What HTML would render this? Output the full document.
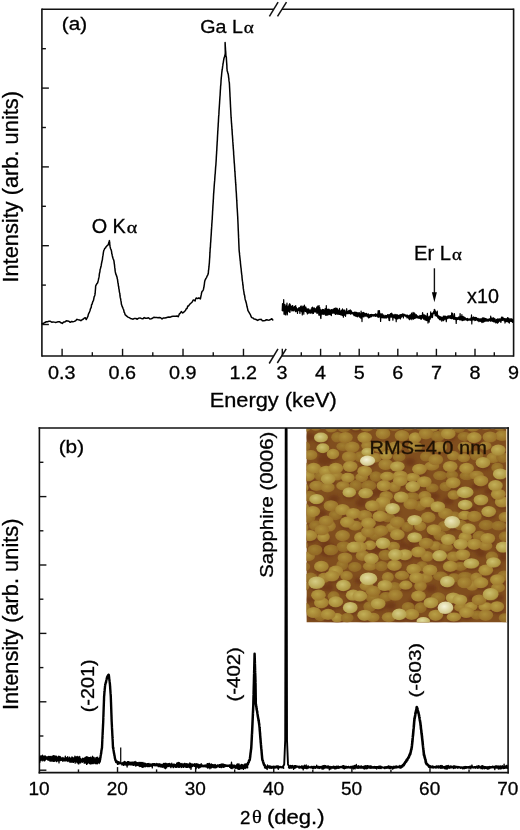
<!DOCTYPE html><html><head><meta charset="utf-8"><style>html,body{margin:0;padding:0;background:#fff;}svg{display:block}</style></head><body>
<svg width="520" height="830" viewBox="0 0 520 830" font-family='"Liberation Sans", Arial, Helvetica, sans-serif'>
<rect width="520" height="830" fill="#fff"/>
<defs>
<clipPath id="afmclip"><rect x="306.4" y="428.5" width="200.8" height="194.0"/></clipPath>
<filter id="afmblur" x="-5%" y="-5%" width="110%" height="110%"><feGaussianBlur stdDeviation="0.75"/></filter>
<filter id="shblur" x="-20%" y="-20%" width="140%" height="140%"><feGaussianBlur stdDeviation="1.8"/></filter>
<radialGradient id="g0" cx="0.42" cy="0.4" r="0.64"><stop offset="0" stop-color="rgb(160, 126, 48)"/><stop offset="0.85" stop-color="rgb(146, 104, 38)"/><stop offset="1" stop-color="rgb(146, 104, 38)" stop-opacity="0.5"/></radialGradient>
<radialGradient id="g1" cx="0.42" cy="0.4" r="0.64"><stop offset="0" stop-color="rgb(172, 142, 58)"/><stop offset="0.85" stop-color="rgb(154, 114, 42)"/><stop offset="1" stop-color="rgb(154, 114, 42)" stop-opacity="0.5"/></radialGradient>
<radialGradient id="g2" cx="0.42" cy="0.4" r="0.64"><stop offset="0" stop-color="rgb(184, 160, 70)"/><stop offset="0.85" stop-color="rgb(162, 126, 48)"/><stop offset="1" stop-color="rgb(162, 126, 48)" stop-opacity="0.5"/></radialGradient>
<radialGradient id="g3" cx="0.42" cy="0.4" r="0.64"><stop offset="0" stop-color="rgb(194, 176, 88)"/><stop offset="0.85" stop-color="rgb(168, 138, 56)"/><stop offset="1" stop-color="rgb(168, 138, 56)" stop-opacity="0.5"/></radialGradient>
<radialGradient id="g4" cx="0.42" cy="0.4" r="0.64"><stop offset="0" stop-color="rgb(204, 192, 110)"/><stop offset="0.85" stop-color="rgb(174, 150, 64)"/><stop offset="1" stop-color="rgb(174, 150, 64)" stop-opacity="0.5"/></radialGradient>
<radialGradient id="g5" cx="0.42" cy="0.4" r="0.64"><stop offset="0" stop-color="rgb(214, 206, 134)"/><stop offset="0.85" stop-color="rgb(182, 162, 78)"/><stop offset="1" stop-color="rgb(182, 162, 78)" stop-opacity="0.5"/></radialGradient>
<radialGradient id="g6" cx="0.42" cy="0.4" r="0.64"><stop offset="0" stop-color="rgb(226, 220, 160)"/><stop offset="0.85" stop-color="rgb(192, 176, 96)"/><stop offset="1" stop-color="rgb(192, 176, 96)" stop-opacity="0.5"/></radialGradient>
<radialGradient id="g7" cx="0.42" cy="0.4" r="0.64"><stop offset="0" stop-color="rgb(236, 232, 188)"/><stop offset="0.85" stop-color="rgb(200, 188, 116)"/><stop offset="1" stop-color="rgb(200, 188, 116)" stop-opacity="0.5"/></radialGradient>
<radialGradient id="g8" cx="0.42" cy="0.4" r="0.64"><stop offset="0" stop-color="rgb(246, 244, 218)"/><stop offset="0.85" stop-color="rgb(210, 200, 138)"/><stop offset="1" stop-color="rgb(210, 200, 138)" stop-opacity="0.5"/></radialGradient>
</defs>
<g clip-path="url(#afmclip)"><rect x="306.4" y="428.5" width="200.8" height="194.0" fill="rgb(128,78,30)"/>
<g filter="url(#shblur)" opacity="0.75">
<ellipse cx="310.0" cy="437.0" rx="5.5" ry="4.0" fill="rgb(108,52,20)"/>
<ellipse cx="325.0" cy="460.0" rx="7.7" ry="5.6" fill="rgb(108,52,20)"/>
<ellipse cx="334.0" cy="499.0" rx="5.5" ry="4.0" fill="rgb(108,52,20)"/>
<ellipse cx="321.4" cy="513.5" rx="5.5" ry="4.0" fill="rgb(108,52,20)"/>
<ellipse cx="309.0" cy="490.0" rx="4.4" ry="3.2" fill="rgb(108,52,20)"/>
<ellipse cx="360.8" cy="503.0" rx="5.5" ry="4.0" fill="rgb(108,52,20)"/>
<ellipse cx="376.2" cy="492.4" rx="5.5" ry="4.0" fill="rgb(108,52,20)"/>
<ellipse cx="434.0" cy="496.2" rx="5.5" ry="4.0" fill="rgb(108,52,20)"/>
<ellipse cx="448.3" cy="501.0" rx="5.5" ry="4.0" fill="rgb(108,52,20)"/>
<ellipse cx="476.2" cy="486.6" rx="4.4" ry="3.2" fill="rgb(108,52,20)"/>
<ellipse cx="488.7" cy="491.4" rx="4.4" ry="3.2" fill="rgb(108,52,20)"/>
<ellipse cx="472.4" cy="509.7" rx="4.4" ry="3.2" fill="rgb(108,52,20)"/>
<ellipse cx="328.0" cy="550.0" rx="9.9" ry="7.2" fill="rgb(108,52,20)"/>
<ellipse cx="376.2" cy="550.0" rx="5.5" ry="4.0" fill="rgb(108,52,20)"/>
<ellipse cx="403.2" cy="545.2" rx="4.4" ry="3.2" fill="rgb(108,52,20)"/>
<ellipse cx="432.0" cy="537.5" rx="4.4" ry="3.2" fill="rgb(108,52,20)"/>
<ellipse cx="410.8" cy="547.2" rx="4.4" ry="3.2" fill="rgb(108,52,20)"/>
<ellipse cx="481.0" cy="553.0" rx="5.5" ry="4.0" fill="rgb(108,52,20)"/>
<ellipse cx="503.2" cy="557.7" rx="4.4" ry="3.2" fill="rgb(108,52,20)"/>
<ellipse cx="328.2" cy="587.5" rx="5.5" ry="4.0" fill="rgb(108,52,20)"/>
<ellipse cx="331.0" cy="608.6" rx="4.4" ry="3.2" fill="rgb(108,52,20)"/>
<ellipse cx="309.0" cy="600.0" rx="3.3" ry="2.4" fill="rgb(108,52,20)"/>
<ellipse cx="390.7" cy="605.7" rx="5.5" ry="4.0" fill="rgb(108,52,20)"/>
<ellipse cx="359.0" cy="580.7" rx="4.4" ry="3.2" fill="rgb(108,52,20)"/>
<ellipse cx="431.0" cy="588.4" rx="5.5" ry="4.0" fill="rgb(108,52,20)"/>
<ellipse cx="412.8" cy="602.8" rx="4.4" ry="3.2" fill="rgb(108,52,20)"/>
<ellipse cx="472.4" cy="598.0" rx="4.4" ry="3.2" fill="rgb(108,52,20)"/>
<ellipse cx="499.3" cy="598.0" rx="4.4" ry="3.2" fill="rgb(108,52,20)"/>
<ellipse cx="457.0" cy="610.5" rx="3.3" ry="2.4" fill="rgb(108,52,20)"/>
<ellipse cx="410.0" cy="462.0" rx="5.5" ry="4.0" fill="rgb(108,52,20)"/>
<ellipse cx="356.4" cy="428.1" rx="6.1" ry="4.0" fill="rgb(105,50,20)"/>
<ellipse cx="433.7" cy="429.5" rx="5.7" ry="4.1" fill="rgb(105,50,20)"/>
<ellipse cx="415.4" cy="440.8" rx="6.2" ry="4.1" fill="rgb(105,50,20)"/>
<ellipse cx="386.7" cy="458.1" rx="6.1" ry="4.0" fill="rgb(105,50,20)"/>
<ellipse cx="308.4" cy="479.1" rx="6.8" ry="3.9" fill="rgb(105,50,20)"/>
<ellipse cx="348.2" cy="480.6" rx="6.5" ry="3.8" fill="rgb(105,50,20)"/>
<ellipse cx="387.6" cy="479.0" rx="7.0" ry="3.5" fill="rgb(105,50,20)"/>
<ellipse cx="413.1" cy="479.9" rx="6.8" ry="3.4" fill="rgb(105,50,20)"/>
<ellipse cx="302.5" cy="490.7" rx="6.2" ry="3.8" fill="rgb(105,50,20)"/>
<ellipse cx="302.3" cy="510.8" rx="6.9" ry="4.0" fill="rgb(105,50,20)"/>
<ellipse cx="465.1" cy="518.0" rx="6.3" ry="3.6" fill="rgb(105,50,20)"/>
<ellipse cx="323.8" cy="539.9" rx="6.0" ry="4.0" fill="rgb(105,50,20)"/>
<ellipse cx="360.6" cy="540.5" rx="5.9" ry="4.1" fill="rgb(105,50,20)"/>
<ellipse cx="465.5" cy="540.0" rx="6.4" ry="3.8" fill="rgb(105,50,20)"/>
<ellipse cx="370.3" cy="548.0" rx="5.8" ry="3.6" fill="rgb(105,50,20)"/>
<ellipse cx="406.1" cy="587.7" rx="6.3" ry="3.4" fill="rgb(105,50,20)"/>
<ellipse cx="471.5" cy="609.2" rx="6.0" ry="3.5" fill="rgb(105,50,20)"/>
<ellipse cx="485.9" cy="609.2" rx="6.8" ry="3.4" fill="rgb(105,50,20)"/>
<ellipse cx="497.4" cy="609.7" rx="6.7" ry="4.1" fill="rgb(105,50,20)"/>
<ellipse cx="337.5" cy="620.5" rx="5.7" ry="3.6" fill="rgb(105,50,20)"/>
<ellipse cx="454.2" cy="619.6" rx="6.9" ry="3.4" fill="rgb(105,50,20)"/>
<ellipse cx="333.3" cy="456.9" rx="6.0" ry="3.9" fill="rgb(105,50,20)"/>
<ellipse cx="314.0" cy="471.5" rx="7.0" ry="4.2" fill="rgb(105,50,20)"/>
<ellipse cx="326.5" cy="474.4" rx="7.0" ry="4.2" fill="rgb(105,50,20)"/>
<ellipse cx="336.1" cy="471.5" rx="7.0" ry="4.2" fill="rgb(105,50,20)"/>
<ellipse cx="350.6" cy="469.6" rx="7.0" ry="4.2" fill="rgb(105,50,20)"/>
<ellipse cx="365.0" cy="440.7" rx="7.0" ry="4.2" fill="rgb(105,50,20)"/>
<ellipse cx="365.0" cy="474.4" rx="7.0" ry="4.2" fill="rgb(105,50,20)"/>
<ellipse cx="400.6" cy="479.1" rx="7.0" ry="4.2" fill="rgb(105,50,20)"/>
<ellipse cx="419.8" cy="472.4" rx="7.0" ry="4.2" fill="rgb(105,50,20)"/>
<ellipse cx="450.6" cy="469.6" rx="7.0" ry="4.2" fill="rgb(105,50,20)"/>
<ellipse cx="448.6" cy="436.9" rx="7.0" ry="4.2" fill="rgb(105,50,20)"/>
<ellipse cx="474.6" cy="440.7" rx="7.0" ry="4.2" fill="rgb(105,50,20)"/>
<ellipse cx="466.9" cy="471.5" rx="7.0" ry="4.2" fill="rgb(105,50,20)"/>
<ellipse cx="342.9" cy="512.8" rx="7.0" ry="4.2" fill="rgb(105,50,20)"/>
<ellipse cx="313.1" cy="514.7" rx="7.0" ry="4.2" fill="rgb(105,50,20)"/>
<ellipse cx="353.5" cy="516.6" rx="7.0" ry="4.2" fill="rgb(105,50,20)"/>
<ellipse cx="347.7" cy="525.3" rx="7.0" ry="4.2" fill="rgb(105,50,20)"/>
<ellipse cx="383.3" cy="505.1" rx="7.0" ry="4.2" fill="rgb(105,50,20)"/>
<ellipse cx="372.7" cy="508.9" rx="7.0" ry="4.2" fill="rgb(105,50,20)"/>
<ellipse cx="380.3" cy="519.5" rx="7.0" ry="4.2" fill="rgb(105,50,20)"/>
<ellipse cx="384.3" cy="488.8" rx="7.0" ry="4.2" fill="rgb(105,50,20)"/>
<ellipse cx="400.6" cy="483.9" rx="7.0" ry="4.2" fill="rgb(105,50,20)"/>
<ellipse cx="368.8" cy="526.3" rx="7.0" ry="4.2" fill="rgb(105,50,20)"/>
<ellipse cx="427.5" cy="505.1" rx="7.0" ry="4.2" fill="rgb(105,50,20)"/>
<ellipse cx="424.6" cy="484.9" rx="7.0" ry="4.2" fill="rgb(105,50,20)"/>
<ellipse cx="453.5" cy="485.9" rx="7.0" ry="4.2" fill="rgb(105,50,20)"/>
<ellipse cx="502.5" cy="505.1" rx="7.0" ry="4.2" fill="rgb(105,50,20)"/>
<ellipse cx="498.6" cy="497.4" rx="7.0" ry="4.2" fill="rgb(105,50,20)"/>
<ellipse cx="481.3" cy="483.9" rx="7.0" ry="4.2" fill="rgb(105,50,20)"/>
<ellipse cx="321.7" cy="569.5" rx="7.0" ry="4.2" fill="rgb(105,50,20)"/>
<ellipse cx="336.1" cy="574.3" rx="7.0" ry="4.2" fill="rgb(105,50,20)"/>
<ellipse cx="310.2" cy="538.7" rx="7.0" ry="4.2" fill="rgb(105,50,20)"/>
<ellipse cx="360.2" cy="550.3" rx="7.0" ry="4.2" fill="rgb(105,50,20)"/>
<ellipse cx="397.7" cy="537.8" rx="7.0" ry="4.2" fill="rgb(105,50,20)"/>
<ellipse cx="394.8" cy="568.5" rx="7.0" ry="4.2" fill="rgb(105,50,20)"/>
<ellipse cx="434.3" cy="532.9" rx="7.0" ry="4.2" fill="rgb(105,50,20)"/>
<ellipse cx="418.8" cy="555.1" rx="7.0" ry="4.2" fill="rgb(105,50,20)"/>
<ellipse cx="414.0" cy="572.4" rx="7.0" ry="4.2" fill="rgb(105,50,20)"/>
<ellipse cx="430.3" cy="573.3" rx="7.0" ry="4.2" fill="rgb(105,50,20)"/>
<ellipse cx="450.6" cy="569.5" rx="7.0" ry="4.2" fill="rgb(105,50,20)"/>
<ellipse cx="474.6" cy="547.4" rx="7.0" ry="4.2" fill="rgb(105,50,20)"/>
<ellipse cx="488.1" cy="541.6" rx="7.0" ry="4.2" fill="rgb(105,50,20)"/>
<ellipse cx="463.1" cy="557.9" rx="7.0" ry="4.2" fill="rgb(105,50,20)"/>
<ellipse cx="486.1" cy="573.3" rx="7.0" ry="4.2" fill="rgb(105,50,20)"/>
<ellipse cx="321.7" cy="605.9" rx="7.0" ry="4.2" fill="rgb(105,50,20)"/>
<ellipse cx="314.0" cy="615.6" rx="7.0" ry="4.2" fill="rgb(105,50,20)"/>
<ellipse cx="328.5" cy="617.5" rx="7.0" ry="4.2" fill="rgb(105,50,20)"/>
<ellipse cx="318.8" cy="598.3" rx="7.0" ry="4.2" fill="rgb(105,50,20)"/>
<ellipse cx="332.3" cy="579.1" rx="7.0" ry="4.2" fill="rgb(105,50,20)"/>
<ellipse cx="418.8" cy="599.2" rx="7.0" ry="4.2" fill="rgb(105,50,20)"/>
<ellipse cx="416.9" cy="580.9" rx="7.0" ry="4.2" fill="rgb(105,50,20)"/>
<ellipse cx="436.1" cy="618.4" rx="7.0" ry="4.2" fill="rgb(105,50,20)"/>
<ellipse cx="412.1" cy="617.5" rx="7.0" ry="4.2" fill="rgb(105,50,20)"/>
<ellipse cx="481.3" cy="585.8" rx="7.0" ry="4.2" fill="rgb(105,50,20)"/>
<ellipse cx="466.9" cy="615.6" rx="7.0" ry="4.2" fill="rgb(105,50,20)"/>
<ellipse cx="497.7" cy="582.9" rx="7.0" ry="4.2" fill="rgb(105,50,20)"/>
<ellipse cx="397.7" cy="469.4" rx="7.0" ry="3.9" fill="rgb(105,50,20)"/>
<ellipse cx="498.6" cy="453.2" rx="7.0" ry="4.2" fill="rgb(105,50,20)"/>
<ellipse cx="483.3" cy="465.7" rx="7.0" ry="4.2" fill="rgb(105,50,20)"/>
<ellipse cx="328.5" cy="482.1" rx="7.0" ry="4.2" fill="rgb(105,50,20)"/>
<ellipse cx="366.0" cy="496.2" rx="7.0" ry="3.9" fill="rgb(105,50,20)"/>
<ellipse cx="401.5" cy="500.3" rx="7.0" ry="4.2" fill="rgb(105,50,20)"/>
<ellipse cx="438.1" cy="509.9" rx="7.0" ry="4.2" fill="rgb(105,50,20)"/>
<ellipse cx="413.1" cy="489.7" rx="7.0" ry="4.2" fill="rgb(105,50,20)"/>
<ellipse cx="495.8" cy="488.8" rx="7.0" ry="4.2" fill="rgb(105,50,20)"/>
<ellipse cx="481.3" cy="503.1" rx="7.0" ry="4.2" fill="rgb(105,50,20)"/>
<ellipse cx="489.0" cy="514.7" rx="7.0" ry="4.2" fill="rgb(105,50,20)"/>
<ellipse cx="354.4" cy="550.3" rx="7.0" ry="4.2" fill="rgb(105,50,20)"/>
<ellipse cx="371.7" cy="561.8" rx="7.0" ry="4.2" fill="rgb(105,50,20)"/>
<ellipse cx="405.3" cy="557.9" rx="7.0" ry="4.2" fill="rgb(105,50,20)"/>
<ellipse cx="448.6" cy="542.6" rx="7.0" ry="4.2" fill="rgb(105,50,20)"/>
<ellipse cx="468.8" cy="532.0" rx="7.0" ry="4.2" fill="rgb(105,50,20)"/>
<ellipse cx="461.1" cy="547.4" rx="7.0" ry="4.2" fill="rgb(105,50,20)"/>
<ellipse cx="336.1" cy="605.0" rx="7.0" ry="4.2" fill="rgb(105,50,20)"/>
<ellipse cx="353.5" cy="598.3" rx="7.0" ry="4.2" fill="rgb(105,50,20)"/>
<ellipse cx="385.2" cy="588.6" rx="7.0" ry="4.2" fill="rgb(105,50,20)"/>
<ellipse cx="378.5" cy="606.9" rx="7.0" ry="4.2" fill="rgb(105,50,20)"/>
<ellipse cx="360.2" cy="599.2" rx="7.0" ry="4.2" fill="rgb(105,50,20)"/>
<ellipse cx="365.0" cy="618.4" rx="7.0" ry="4.2" fill="rgb(105,50,20)"/>
<ellipse cx="431.3" cy="605.9" rx="7.0" ry="4.2" fill="rgb(105,50,20)"/>
<ellipse cx="453.5" cy="601.1" rx="7.0" ry="4.2" fill="rgb(105,50,20)"/>
<ellipse cx="460.2" cy="603.1" rx="7.0" ry="4.2" fill="rgb(105,50,20)"/>
<ellipse cx="323.2" cy="451.0" rx="6.2" ry="3.8" fill="rgb(105,50,20)"/>
<ellipse cx="367.9" cy="454.3" rx="6.0" ry="3.2" fill="rgb(105,50,20)"/>
<ellipse cx="500.6" cy="477.1" rx="7.0" ry="4.2" fill="rgb(105,50,20)"/>
<ellipse cx="316.9" cy="502.0" rx="7.0" ry="3.9" fill="rgb(105,50,20)"/>
<ellipse cx="349.6" cy="495.3" rx="6.5" ry="3.9" fill="rgb(105,50,20)"/>
<ellipse cx="465.5" cy="495.6" rx="8.0" ry="4.3" fill="rgb(105,50,20)"/>
<ellipse cx="465.5" cy="507.8" rx="7.0" ry="3.9" fill="rgb(105,50,20)"/>
<ellipse cx="383.3" cy="546.5" rx="7.0" ry="4.3" fill="rgb(105,50,20)"/>
<ellipse cx="395.8" cy="558.0" rx="7.0" ry="4.3" fill="rgb(105,50,20)"/>
<ellipse cx="415.0" cy="540.4" rx="7.0" ry="3.9" fill="rgb(105,50,20)"/>
<ellipse cx="440.0" cy="559.0" rx="7.0" ry="4.3" fill="rgb(105,50,20)"/>
<ellipse cx="493.8" cy="565.4" rx="7.0" ry="3.9" fill="rgb(105,50,20)"/>
<ellipse cx="471.7" cy="566.4" rx="7.5" ry="3.9" fill="rgb(105,50,20)"/>
<ellipse cx="503.5" cy="550.3" rx="7.0" ry="4.2" fill="rgb(105,50,20)"/>
<ellipse cx="343.8" cy="588.7" rx="7.0" ry="4.3" fill="rgb(105,50,20)"/>
<ellipse cx="491.0" cy="597.7" rx="7.5" ry="4.7" fill="rgb(105,50,20)"/>
<ellipse cx="321.3" cy="440.4" rx="6.7" ry="3.8" fill="rgb(105,50,20)"/>
<ellipse cx="392.9" cy="511.9" rx="7.0" ry="4.3" fill="rgb(105,50,20)"/>
<ellipse cx="415.0" cy="523.2" rx="7.0" ry="3.9" fill="rgb(105,50,20)"/>
<ellipse cx="316.9" cy="586.2" rx="8.0" ry="4.7" fill="rgb(105,50,20)"/>
<ellipse cx="350.6" cy="610.9" rx="7.0" ry="4.3" fill="rgb(105,50,20)"/>
<ellipse cx="399.6" cy="617.6" rx="7.0" ry="4.3" fill="rgb(105,50,20)"/>
<ellipse cx="447.7" cy="584.9" rx="7.0" ry="4.3" fill="rgb(105,50,20)"/>
<ellipse cx="368.8" cy="582.3" rx="8.5" ry="4.7" fill="rgb(105,50,20)"/>
<ellipse cx="423.6" cy="623.4" rx="6.5" ry="3.2" fill="rgb(105,50,20)"/>
<ellipse cx="452.5" cy="525.7" rx="7.5" ry="4.7" fill="rgb(105,50,20)"/>
<ellipse cx="367.9" cy="463.6" rx="7.2" ry="3.9" fill="rgb(105,50,20)"/>
<ellipse cx="445.8" cy="611.2" rx="7.5" ry="4.7" fill="rgb(105,50,20)"/>
</g>
<g filter="url(#afmblur)">
<ellipse cx="304.6" cy="427.4" rx="6.4" ry="4.6" fill="url(#g1)"/>
<ellipse cx="315.9" cy="426.2" rx="6.1" ry="4.5" fill="url(#g1)"/>
<ellipse cx="331.4" cy="427.0" rx="6.7" ry="5.5" fill="url(#g1)"/>
<ellipse cx="344.0" cy="427.5" rx="6.6" ry="5.0" fill="url(#g0)"/>
<ellipse cx="356.1" cy="425.2" rx="6.4" ry="5.4" fill="url(#g2)"/>
<ellipse cx="366.7" cy="427.0" rx="7.3" ry="4.7" fill="url(#g1)"/>
<ellipse cx="383.0" cy="427.6" rx="7.1" ry="4.5" fill="url(#g0)"/>
<ellipse cx="394.4" cy="426.3" rx="6.3" ry="4.8" fill="url(#g0)"/>
<ellipse cx="408.6" cy="425.9" rx="7.0" ry="4.9" fill="url(#g0)"/>
<ellipse cx="421.6" cy="425.7" rx="6.5" ry="5.3" fill="url(#g0)"/>
<ellipse cx="433.4" cy="426.5" rx="6.0" ry="5.4" fill="url(#g2)"/>
<ellipse cx="444.7" cy="427.5" rx="6.6" ry="5.5" fill="url(#g0)"/>
<ellipse cx="459.0" cy="427.8" rx="6.4" ry="5.2" fill="url(#g0)"/>
<ellipse cx="473.1" cy="427.1" rx="6.7" ry="4.7" fill="url(#g1)"/>
<ellipse cx="486.0" cy="425.3" rx="7.0" ry="4.9" fill="url(#g0)"/>
<ellipse cx="499.6" cy="425.6" rx="6.6" ry="5.3" fill="url(#g1)"/>
<ellipse cx="337.4" cy="437.2" rx="6.2" ry="5.2" fill="url(#g0)"/>
<ellipse cx="415.1" cy="437.8" rx="6.5" ry="5.5" fill="url(#g2)"/>
<ellipse cx="438.0" cy="436.2" rx="7.3" ry="5.3" fill="url(#g0)"/>
<ellipse cx="464.4" cy="436.5" rx="6.8" ry="4.6" fill="url(#g0)"/>
<ellipse cx="502.4" cy="435.6" rx="7.4" ry="5.4" fill="url(#g1)"/>
<ellipse cx="303.3" cy="446.4" rx="7.0" ry="5.4" fill="url(#g0)"/>
<ellipse cx="343.3" cy="446.5" rx="7.0" ry="4.5" fill="url(#g0)"/>
<ellipse cx="367.3" cy="445.6" rx="6.1" ry="4.7" fill="url(#g1)"/>
<ellipse cx="485.5" cy="445.9" rx="6.1" ry="4.5" fill="url(#g1)"/>
<ellipse cx="310.7" cy="455.1" rx="6.8" ry="5.0" fill="url(#g1)"/>
<ellipse cx="360.4" cy="456.7" rx="6.3" ry="5.5" fill="url(#g0)"/>
<ellipse cx="375.4" cy="457.9" rx="6.4" ry="4.9" fill="url(#g1)"/>
<ellipse cx="386.4" cy="455.1" rx="6.4" ry="5.4" fill="url(#g2)"/>
<ellipse cx="399.1" cy="457.1" rx="6.4" ry="4.6" fill="url(#g0)"/>
<ellipse cx="426.4" cy="456.6" rx="6.4" ry="5.0" fill="url(#g0)"/>
<ellipse cx="453.3" cy="455.8" rx="6.3" ry="4.8" fill="url(#g1)"/>
<ellipse cx="463.8" cy="457.8" rx="6.3" ry="4.5" fill="url(#g1)"/>
<ellipse cx="476.6" cy="455.6" rx="6.6" ry="5.1" fill="url(#g0)"/>
<ellipse cx="493.3" cy="457.7" rx="6.9" ry="5.4" fill="url(#g1)"/>
<ellipse cx="502.8" cy="457.6" rx="6.6" ry="5.3" fill="url(#g0)"/>
<ellipse cx="302.7" cy="466.9" rx="6.2" ry="5.3" fill="url(#g0)"/>
<ellipse cx="431.9" cy="466.1" rx="7.4" ry="4.6" fill="url(#g1)"/>
<ellipse cx="497.4" cy="467.7" rx="6.1" ry="5.0" fill="url(#g0)"/>
<ellipse cx="308.1" cy="476.2" rx="7.1" ry="5.2" fill="url(#g2)"/>
<ellipse cx="321.2" cy="476.0" rx="6.6" ry="5.2" fill="url(#g0)"/>
<ellipse cx="336.6" cy="476.0" rx="6.7" ry="4.6" fill="url(#g1)"/>
<ellipse cx="347.9" cy="477.8" rx="6.8" ry="5.1" fill="url(#g2)"/>
<ellipse cx="361.7" cy="477.4" rx="6.4" ry="4.8" fill="url(#g1)"/>
<ellipse cx="375.9" cy="476.5" rx="6.2" ry="5.3" fill="url(#g0)"/>
<ellipse cx="387.3" cy="476.4" rx="7.3" ry="4.6" fill="url(#g2)"/>
<ellipse cx="412.8" cy="477.5" rx="7.2" ry="4.5" fill="url(#g2)"/>
<ellipse cx="440.1" cy="475.6" rx="7.0" ry="4.7" fill="url(#g0)"/>
<ellipse cx="451.9" cy="475.1" rx="6.2" ry="4.7" fill="url(#g0)"/>
<ellipse cx="466.8" cy="475.7" rx="7.2" ry="4.5" fill="url(#g0)"/>
<ellipse cx="476.6" cy="475.2" rx="7.2" ry="4.5" fill="url(#g1)"/>
<ellipse cx="302.2" cy="487.9" rx="6.5" ry="5.1" fill="url(#g2)"/>
<ellipse cx="316.7" cy="485.8" rx="7.5" ry="5.1" fill="url(#g1)"/>
<ellipse cx="327.7" cy="487.4" rx="7.0" ry="5.0" fill="url(#g1)"/>
<ellipse cx="343.0" cy="485.8" rx="6.8" ry="4.6" fill="url(#g1)"/>
<ellipse cx="355.8" cy="485.5" rx="6.4" ry="5.4" fill="url(#g0)"/>
<ellipse cx="368.8" cy="485.7" rx="7.5" ry="5.4" fill="url(#g0)"/>
<ellipse cx="394.7" cy="486.8" rx="6.1" ry="5.2" fill="url(#g1)"/>
<ellipse cx="432.3" cy="488.0" rx="6.4" ry="4.6" fill="url(#g0)"/>
<ellipse cx="445.6" cy="486.7" rx="6.1" ry="4.8" fill="url(#g0)"/>
<ellipse cx="309.5" cy="496.1" rx="7.1" ry="5.4" fill="url(#g0)"/>
<ellipse cx="386.2" cy="496.3" rx="6.8" ry="5.3" fill="url(#g1)"/>
<ellipse cx="412.4" cy="497.0" rx="7.4" ry="4.7" fill="url(#g0)"/>
<ellipse cx="424.9" cy="496.1" rx="6.5" ry="5.0" fill="url(#g1)"/>
<ellipse cx="453.7" cy="495.0" rx="6.1" ry="4.8" fill="url(#g1)"/>
<ellipse cx="302.0" cy="507.8" rx="7.3" ry="5.3" fill="url(#g2)"/>
<ellipse cx="381.7" cy="507.7" rx="6.0" ry="4.7" fill="url(#g0)"/>
<ellipse cx="419.9" cy="506.0" rx="6.4" ry="5.0" fill="url(#g0)"/>
<ellipse cx="309.2" cy="517.6" rx="6.3" ry="5.5" fill="url(#g0)"/>
<ellipse cx="335.5" cy="515.1" rx="6.8" ry="5.1" fill="url(#g0)"/>
<ellipse cx="388.1" cy="517.7" rx="7.3" ry="4.7" fill="url(#g0)"/>
<ellipse cx="454.2" cy="516.2" rx="7.2" ry="4.6" fill="url(#g0)"/>
<ellipse cx="464.8" cy="515.4" rx="6.6" ry="4.7" fill="url(#g2)"/>
<ellipse cx="505.2" cy="517.1" rx="6.6" ry="5.0" fill="url(#g1)"/>
<ellipse cx="302.1" cy="527.5" rx="6.4" ry="5.4" fill="url(#g1)"/>
<ellipse cx="315.6" cy="525.6" rx="6.6" ry="5.0" fill="url(#g0)"/>
<ellipse cx="329.9" cy="526.2" rx="6.0" ry="5.4" fill="url(#g1)"/>
<ellipse cx="355.2" cy="525.8" rx="7.2" ry="5.0" fill="url(#g1)"/>
<ellipse cx="392.8" cy="527.7" rx="7.1" ry="4.9" fill="url(#g1)"/>
<ellipse cx="407.4" cy="527.0" rx="6.0" ry="5.0" fill="url(#g0)"/>
<ellipse cx="420.2" cy="526.3" rx="6.0" ry="5.0" fill="url(#g1)"/>
<ellipse cx="444.9" cy="526.1" rx="7.0" ry="5.3" fill="url(#g0)"/>
<ellipse cx="460.5" cy="525.0" rx="6.7" ry="5.3" fill="url(#g0)"/>
<ellipse cx="486.2" cy="525.2" rx="7.5" ry="5.1" fill="url(#g0)"/>
<ellipse cx="498.8" cy="525.8" rx="7.5" ry="4.8" fill="url(#g0)"/>
<ellipse cx="323.5" cy="536.9" rx="6.4" ry="5.3" fill="url(#g2)"/>
<ellipse cx="360.3" cy="537.5" rx="6.2" ry="5.4" fill="url(#g2)"/>
<ellipse cx="375.6" cy="535.8" rx="6.5" ry="4.5" fill="url(#g0)"/>
<ellipse cx="440.0" cy="535.6" rx="6.6" ry="5.0" fill="url(#g0)"/>
<ellipse cx="465.2" cy="537.2" rx="6.7" ry="5.1" fill="url(#g2)"/>
<ellipse cx="479.4" cy="536.2" rx="6.8" ry="5.4" fill="url(#g0)"/>
<ellipse cx="505.0" cy="536.5" rx="6.2" ry="5.0" fill="url(#g0)"/>
<ellipse cx="301.7" cy="545.2" rx="6.3" ry="5.0" fill="url(#g0)"/>
<ellipse cx="343.7" cy="546.6" rx="7.2" ry="5.4" fill="url(#g0)"/>
<ellipse cx="370.0" cy="545.4" rx="6.1" ry="4.8" fill="url(#g2)"/>
<ellipse cx="393.7" cy="546.7" rx="6.3" ry="4.9" fill="url(#g1)"/>
<ellipse cx="435.4" cy="546.0" rx="6.4" ry="4.7" fill="url(#g1)"/>
<ellipse cx="446.0" cy="547.2" rx="7.1" ry="4.6" fill="url(#g0)"/>
<ellipse cx="485.6" cy="545.9" rx="6.9" ry="4.8" fill="url(#g1)"/>
<ellipse cx="308.8" cy="556.4" rx="6.2" ry="4.8" fill="url(#g1)"/>
<ellipse cx="362.6" cy="555.5" rx="6.9" ry="5.4" fill="url(#g1)"/>
<ellipse cx="385.6" cy="555.1" rx="7.1" ry="5.4" fill="url(#g0)"/>
<ellipse cx="427.2" cy="556.4" rx="6.3" ry="5.4" fill="url(#g1)"/>
<ellipse cx="453.5" cy="556.7" rx="6.8" ry="5.1" fill="url(#g1)"/>
<ellipse cx="491.9" cy="556.7" rx="6.2" ry="5.1" fill="url(#g0)"/>
<ellipse cx="302.8" cy="566.8" rx="7.4" ry="5.0" fill="url(#g0)"/>
<ellipse cx="342.3" cy="565.1" rx="6.0" ry="5.3" fill="url(#g0)"/>
<ellipse cx="354.9" cy="567.0" rx="6.7" ry="5.0" fill="url(#g0)"/>
<ellipse cx="369.9" cy="566.2" rx="7.0" ry="4.5" fill="url(#g1)"/>
<ellipse cx="381.5" cy="566.1" rx="6.6" ry="5.2" fill="url(#g0)"/>
<ellipse cx="422.1" cy="566.2" rx="6.0" ry="5.0" fill="url(#g0)"/>
<ellipse cx="460.5" cy="566.4" rx="7.1" ry="4.5" fill="url(#g0)"/>
<ellipse cx="310.6" cy="577.9" rx="6.9" ry="5.3" fill="url(#g0)"/>
<ellipse cx="324.2" cy="577.9" rx="6.5" ry="5.1" fill="url(#g1)"/>
<ellipse cx="346.6" cy="575.9" rx="6.3" ry="4.9" fill="url(#g1)"/>
<ellipse cx="387.9" cy="577.2" rx="6.0" ry="5.2" fill="url(#g1)"/>
<ellipse cx="402.0" cy="575.4" rx="7.2" ry="4.6" fill="url(#g1)"/>
<ellipse cx="425.9" cy="578.0" rx="6.9" ry="5.0" fill="url(#g1)"/>
<ellipse cx="440.6" cy="576.2" rx="7.5" ry="4.7" fill="url(#g0)"/>
<ellipse cx="454.0" cy="577.9" rx="6.7" ry="4.6" fill="url(#g0)"/>
<ellipse cx="465.2" cy="576.6" rx="7.5" ry="4.7" fill="url(#g0)"/>
<ellipse cx="476.5" cy="577.9" rx="6.0" ry="5.5" fill="url(#g1)"/>
<ellipse cx="504.0" cy="575.6" rx="6.6" ry="5.2" fill="url(#g0)"/>
<ellipse cx="302.2" cy="586.4" rx="7.4" ry="5.1" fill="url(#g1)"/>
<ellipse cx="366.6" cy="586.2" rx="7.0" ry="4.8" fill="url(#g1)"/>
<ellipse cx="394.5" cy="587.5" rx="7.2" ry="5.4" fill="url(#g0)"/>
<ellipse cx="405.8" cy="585.2" rx="6.6" ry="4.6" fill="url(#g2)"/>
<ellipse cx="420.5" cy="586.0" rx="6.3" ry="5.2" fill="url(#g1)"/>
<ellipse cx="472.3" cy="585.5" rx="6.4" ry="5.3" fill="url(#g1)"/>
<ellipse cx="498.0" cy="587.7" rx="7.0" ry="5.1" fill="url(#g1)"/>
<ellipse cx="333.7" cy="596.3" rx="6.0" ry="5.1" fill="url(#g0)"/>
<ellipse cx="373.4" cy="597.9" rx="7.4" ry="5.2" fill="url(#g0)"/>
<ellipse cx="385.9" cy="596.9" rx="6.4" ry="4.9" fill="url(#g0)"/>
<ellipse cx="438.1" cy="597.7" rx="7.3" ry="5.4" fill="url(#g0)"/>
<ellipse cx="303.6" cy="607.6" rx="6.3" ry="5.3" fill="url(#g1)"/>
<ellipse cx="369.8" cy="606.6" rx="6.5" ry="5.4" fill="url(#g0)"/>
<ellipse cx="408.2" cy="607.1" rx="6.5" ry="5.2" fill="url(#g0)"/>
<ellipse cx="420.7" cy="607.7" rx="6.1" ry="5.5" fill="url(#g0)"/>
<ellipse cx="461.4" cy="607.4" rx="7.3" ry="4.9" fill="url(#g1)"/>
<ellipse cx="471.2" cy="606.6" rx="6.4" ry="4.7" fill="url(#g2)"/>
<ellipse cx="485.6" cy="606.7" rx="7.2" ry="4.5" fill="url(#g2)"/>
<ellipse cx="497.1" cy="606.7" rx="7.1" ry="5.5" fill="url(#g2)"/>
<ellipse cx="320.4" cy="616.3" rx="6.1" ry="5.0" fill="url(#g0)"/>
<ellipse cx="337.2" cy="617.9" rx="6.0" ry="4.8" fill="url(#g2)"/>
<ellipse cx="347.2" cy="617.9" rx="6.4" ry="4.9" fill="url(#g0)"/>
<ellipse cx="373.1" cy="617.4" rx="6.5" ry="4.7" fill="url(#g1)"/>
<ellipse cx="389.0" cy="617.2" rx="7.2" ry="5.0" fill="url(#g1)"/>
<ellipse cx="453.9" cy="617.1" rx="7.3" ry="4.6" fill="url(#g2)"/>
<ellipse cx="477.0" cy="615.1" rx="6.4" ry="4.6" fill="url(#g0)"/>
<ellipse cx="505.1" cy="617.9" rx="6.4" ry="4.7" fill="url(#g0)"/>
<ellipse cx="331.0" cy="550.0" rx="7.4" ry="5.6" fill="url(#g0)"/>
<ellipse cx="315.0" cy="550.0" rx="7.4" ry="5.6" fill="url(#g0)"/>
<ellipse cx="345.5" cy="437.6" rx="7.4" ry="5.6" fill="url(#g1)"/>
<ellipse cx="352.2" cy="447.2" rx="7.4" ry="5.6" fill="url(#g1)"/>
<ellipse cx="349.3" cy="456.8" rx="7.4" ry="5.6" fill="url(#g1)"/>
<ellipse cx="383.0" cy="433.8" rx="7.4" ry="5.6" fill="url(#g1)"/>
<ellipse cx="402.0" cy="435.7" rx="7.4" ry="5.6" fill="url(#g1)"/>
<ellipse cx="385.8" cy="464.5" rx="7.4" ry="5.6" fill="url(#g1)"/>
<ellipse cx="380.0" cy="447.0" rx="7.4" ry="5.6" fill="url(#g1)"/>
<ellipse cx="395.0" cy="447.0" rx="7.4" ry="5.6" fill="url(#g1)"/>
<ellipse cx="435.8" cy="459.7" rx="7.4" ry="5.6" fill="url(#g1)"/>
<ellipse cx="426.0" cy="433.8" rx="7.4" ry="5.6" fill="url(#g1)"/>
<ellipse cx="415.0" cy="447.0" rx="7.4" ry="5.6" fill="url(#g1)"/>
<ellipse cx="440.0" cy="447.0" rx="7.4" ry="5.6" fill="url(#g1)"/>
<ellipse cx="465.0" cy="447.0" rx="7.4" ry="5.6" fill="url(#g1)"/>
<ellipse cx="490.0" cy="437.0" rx="7.4" ry="5.6" fill="url(#g1)"/>
<ellipse cx="331.0" cy="505.8" rx="7.4" ry="5.6" fill="url(#g1)"/>
<ellipse cx="326.2" cy="521.2" rx="7.4" ry="5.6" fill="url(#g1)"/>
<ellipse cx="364.7" cy="515.5" rx="7.4" ry="5.6" fill="url(#g1)"/>
<ellipse cx="397.4" cy="522.2" rx="7.4" ry="5.6" fill="url(#g1)"/>
<ellipse cx="428.2" cy="517.4" rx="7.4" ry="5.6" fill="url(#g1)"/>
<ellipse cx="445.5" cy="513.5" rx="7.4" ry="5.6" fill="url(#g1)"/>
<ellipse cx="410.8" cy="504.0" rx="7.4" ry="5.6" fill="url(#g1)"/>
<ellipse cx="474.3" cy="516.4" rx="7.4" ry="5.6" fill="url(#g1)"/>
<ellipse cx="342.6" cy="535.6" rx="7.4" ry="5.6" fill="url(#g1)"/>
<ellipse cx="345.0" cy="558.0" rx="7.4" ry="5.6" fill="url(#g1)"/>
<ellipse cx="322.0" cy="530.0" rx="7.4" ry="5.6" fill="url(#g1)"/>
<ellipse cx="368.5" cy="531.8" rx="7.4" ry="5.6" fill="url(#g1)"/>
<ellipse cx="381.0" cy="530.8" rx="7.4" ry="5.6" fill="url(#g1)"/>
<ellipse cx="426.2" cy="543.3" rx="7.4" ry="5.6" fill="url(#g1)"/>
<ellipse cx="395.5" cy="595.2" rx="7.4" ry="5.6" fill="url(#g1)"/>
<ellipse cx="373.3" cy="591.3" rx="7.4" ry="5.6" fill="url(#g1)"/>
<ellipse cx="479.1" cy="600.0" rx="7.4" ry="5.6" fill="url(#g1)"/>
<ellipse cx="485.8" cy="615.3" rx="7.4" ry="5.6" fill="url(#g1)"/>
<ellipse cx="464.7" cy="582.7" rx="7.4" ry="5.6" fill="url(#g1)"/>
<ellipse cx="333.0" cy="454.0" rx="6.3" ry="5.2" fill="url(#g2)"/>
<ellipse cx="313.7" cy="468.4" rx="7.4" ry="5.6" fill="url(#g2)"/>
<ellipse cx="326.2" cy="471.3" rx="7.4" ry="5.6" fill="url(#g2)"/>
<ellipse cx="335.8" cy="468.4" rx="7.4" ry="5.6" fill="url(#g2)"/>
<ellipse cx="350.3" cy="466.5" rx="7.4" ry="5.6" fill="url(#g2)"/>
<ellipse cx="364.7" cy="437.6" rx="7.4" ry="5.6" fill="url(#g2)"/>
<ellipse cx="364.7" cy="471.3" rx="7.4" ry="5.6" fill="url(#g2)"/>
<ellipse cx="400.3" cy="476.0" rx="7.4" ry="5.6" fill="url(#g2)"/>
<ellipse cx="419.5" cy="469.3" rx="7.4" ry="5.6" fill="url(#g2)"/>
<ellipse cx="450.3" cy="466.5" rx="7.4" ry="5.6" fill="url(#g2)"/>
<ellipse cx="448.3" cy="433.8" rx="7.4" ry="5.6" fill="url(#g2)"/>
<ellipse cx="474.3" cy="437.6" rx="7.4" ry="5.6" fill="url(#g2)"/>
<ellipse cx="466.6" cy="468.4" rx="7.4" ry="5.6" fill="url(#g2)"/>
<ellipse cx="342.6" cy="509.7" rx="7.4" ry="5.6" fill="url(#g2)"/>
<ellipse cx="312.8" cy="511.6" rx="7.4" ry="5.6" fill="url(#g2)"/>
<ellipse cx="353.2" cy="513.5" rx="7.4" ry="5.6" fill="url(#g2)"/>
<ellipse cx="347.4" cy="522.2" rx="7.4" ry="5.6" fill="url(#g2)"/>
<ellipse cx="383.0" cy="502.0" rx="7.4" ry="5.6" fill="url(#g2)"/>
<ellipse cx="372.4" cy="505.8" rx="7.4" ry="5.6" fill="url(#g2)"/>
<ellipse cx="380.0" cy="516.4" rx="7.4" ry="5.6" fill="url(#g2)"/>
<ellipse cx="384.0" cy="485.7" rx="7.4" ry="5.6" fill="url(#g2)"/>
<ellipse cx="400.3" cy="480.8" rx="7.4" ry="5.6" fill="url(#g2)"/>
<ellipse cx="368.5" cy="523.2" rx="7.4" ry="5.6" fill="url(#g2)"/>
<ellipse cx="427.2" cy="502.0" rx="7.4" ry="5.6" fill="url(#g2)"/>
<ellipse cx="424.3" cy="481.8" rx="7.4" ry="5.6" fill="url(#g2)"/>
<ellipse cx="453.2" cy="482.8" rx="7.4" ry="5.6" fill="url(#g2)"/>
<ellipse cx="502.2" cy="502.0" rx="7.4" ry="5.6" fill="url(#g2)"/>
<ellipse cx="498.3" cy="494.3" rx="7.4" ry="5.6" fill="url(#g2)"/>
<ellipse cx="481.0" cy="480.8" rx="7.4" ry="5.6" fill="url(#g2)"/>
<ellipse cx="321.4" cy="566.4" rx="7.4" ry="5.6" fill="url(#g2)"/>
<ellipse cx="335.8" cy="571.2" rx="7.4" ry="5.6" fill="url(#g2)"/>
<ellipse cx="309.9" cy="535.6" rx="7.4" ry="5.6" fill="url(#g2)"/>
<ellipse cx="359.9" cy="547.2" rx="7.4" ry="5.6" fill="url(#g2)"/>
<ellipse cx="397.4" cy="534.7" rx="7.4" ry="5.6" fill="url(#g2)"/>
<ellipse cx="394.5" cy="565.4" rx="7.4" ry="5.6" fill="url(#g2)"/>
<ellipse cx="434.0" cy="529.8" rx="7.4" ry="5.6" fill="url(#g2)"/>
<ellipse cx="418.5" cy="552.0" rx="7.4" ry="5.6" fill="url(#g2)"/>
<ellipse cx="413.7" cy="569.3" rx="7.4" ry="5.6" fill="url(#g2)"/>
<ellipse cx="430.0" cy="570.2" rx="7.4" ry="5.6" fill="url(#g2)"/>
<ellipse cx="450.3" cy="566.4" rx="7.4" ry="5.6" fill="url(#g2)"/>
<ellipse cx="474.3" cy="544.3" rx="7.4" ry="5.6" fill="url(#g2)"/>
<ellipse cx="487.8" cy="538.5" rx="7.4" ry="5.6" fill="url(#g2)"/>
<ellipse cx="462.8" cy="554.8" rx="7.4" ry="5.6" fill="url(#g2)"/>
<ellipse cx="485.8" cy="570.2" rx="7.4" ry="5.6" fill="url(#g2)"/>
<ellipse cx="321.4" cy="602.8" rx="7.4" ry="5.6" fill="url(#g2)"/>
<ellipse cx="313.7" cy="612.5" rx="7.4" ry="5.6" fill="url(#g2)"/>
<ellipse cx="328.2" cy="614.4" rx="7.4" ry="5.6" fill="url(#g2)"/>
<ellipse cx="318.5" cy="595.2" rx="7.4" ry="5.6" fill="url(#g2)"/>
<ellipse cx="332.0" cy="576.0" rx="7.4" ry="5.6" fill="url(#g2)"/>
<ellipse cx="418.5" cy="596.1" rx="7.4" ry="5.6" fill="url(#g2)"/>
<ellipse cx="416.6" cy="577.8" rx="7.4" ry="5.6" fill="url(#g2)"/>
<ellipse cx="435.8" cy="615.3" rx="7.4" ry="5.6" fill="url(#g2)"/>
<ellipse cx="411.8" cy="614.4" rx="7.4" ry="5.6" fill="url(#g2)"/>
<ellipse cx="481.0" cy="582.7" rx="7.4" ry="5.6" fill="url(#g2)"/>
<ellipse cx="466.6" cy="612.5" rx="7.4" ry="5.6" fill="url(#g2)"/>
<ellipse cx="497.4" cy="579.8" rx="7.4" ry="5.6" fill="url(#g2)"/>
<ellipse cx="397.4" cy="466.5" rx="7.4" ry="5.2" fill="url(#g3)"/>
<ellipse cx="498.3" cy="450.1" rx="7.4" ry="5.6" fill="url(#g3)"/>
<ellipse cx="483.0" cy="462.6" rx="7.4" ry="5.6" fill="url(#g3)"/>
<ellipse cx="328.2" cy="479.0" rx="7.4" ry="5.6" fill="url(#g3)"/>
<ellipse cx="365.7" cy="493.3" rx="7.4" ry="5.2" fill="url(#g3)"/>
<ellipse cx="401.2" cy="497.2" rx="7.4" ry="5.6" fill="url(#g3)"/>
<ellipse cx="437.8" cy="506.8" rx="7.4" ry="5.6" fill="url(#g3)"/>
<ellipse cx="412.8" cy="486.6" rx="7.4" ry="5.6" fill="url(#g3)"/>
<ellipse cx="495.5" cy="485.7" rx="7.4" ry="5.6" fill="url(#g3)"/>
<ellipse cx="481.0" cy="500.0" rx="7.4" ry="5.6" fill="url(#g3)"/>
<ellipse cx="488.7" cy="511.6" rx="7.4" ry="5.6" fill="url(#g3)"/>
<ellipse cx="354.1" cy="547.2" rx="7.4" ry="5.6" fill="url(#g3)"/>
<ellipse cx="371.4" cy="558.7" rx="7.4" ry="5.6" fill="url(#g3)"/>
<ellipse cx="405.0" cy="554.8" rx="7.4" ry="5.6" fill="url(#g3)"/>
<ellipse cx="448.3" cy="539.5" rx="7.4" ry="5.6" fill="url(#g3)"/>
<ellipse cx="468.5" cy="528.9" rx="7.4" ry="5.6" fill="url(#g3)"/>
<ellipse cx="460.8" cy="544.3" rx="7.4" ry="5.6" fill="url(#g3)"/>
<ellipse cx="335.8" cy="601.9" rx="7.4" ry="5.6" fill="url(#g3)"/>
<ellipse cx="353.2" cy="595.2" rx="7.4" ry="5.6" fill="url(#g3)"/>
<ellipse cx="384.9" cy="585.5" rx="7.4" ry="5.6" fill="url(#g3)"/>
<ellipse cx="378.2" cy="603.8" rx="7.4" ry="5.6" fill="url(#g3)"/>
<ellipse cx="359.9" cy="596.1" rx="7.4" ry="5.6" fill="url(#g3)"/>
<ellipse cx="364.7" cy="615.3" rx="7.4" ry="5.6" fill="url(#g3)"/>
<ellipse cx="431.0" cy="602.8" rx="7.4" ry="5.6" fill="url(#g3)"/>
<ellipse cx="453.2" cy="598.0" rx="7.4" ry="5.6" fill="url(#g3)"/>
<ellipse cx="459.9" cy="600.0" rx="7.4" ry="5.6" fill="url(#g3)"/>
<ellipse cx="322.9" cy="448.2" rx="6.5" ry="5.0" fill="url(#g4)"/>
<ellipse cx="367.6" cy="452.0" rx="6.3" ry="4.2" fill="url(#g4)"/>
<ellipse cx="500.3" cy="474.0" rx="7.4" ry="5.6" fill="url(#g4)"/>
<ellipse cx="316.6" cy="499.1" rx="7.4" ry="5.2" fill="url(#g4)"/>
<ellipse cx="349.3" cy="492.4" rx="6.8" ry="5.2" fill="url(#g4)"/>
<ellipse cx="465.2" cy="492.4" rx="8.4" ry="5.8" fill="url(#g4)"/>
<ellipse cx="465.2" cy="504.9" rx="7.4" ry="5.2" fill="url(#g4)"/>
<ellipse cx="383.0" cy="543.3" rx="7.4" ry="5.8" fill="url(#g4)"/>
<ellipse cx="395.5" cy="554.8" rx="7.4" ry="5.8" fill="url(#g4)"/>
<ellipse cx="414.7" cy="537.5" rx="7.4" ry="5.2" fill="url(#g4)"/>
<ellipse cx="439.7" cy="555.8" rx="7.4" ry="5.8" fill="url(#g4)"/>
<ellipse cx="493.5" cy="562.5" rx="7.4" ry="5.2" fill="url(#g4)"/>
<ellipse cx="471.4" cy="563.5" rx="7.9" ry="5.2" fill="url(#g4)"/>
<ellipse cx="503.2" cy="547.2" rx="7.4" ry="5.6" fill="url(#g4)"/>
<ellipse cx="343.5" cy="585.5" rx="7.4" ry="5.8" fill="url(#g4)"/>
<ellipse cx="490.7" cy="594.2" rx="7.9" ry="6.3" fill="url(#g4)"/>
<ellipse cx="321.0" cy="437.6" rx="7.0" ry="5.0" fill="url(#g5)"/>
<ellipse cx="392.6" cy="508.7" rx="7.4" ry="5.8" fill="url(#g5)"/>
<ellipse cx="414.7" cy="520.3" rx="7.4" ry="5.2" fill="url(#g5)"/>
<ellipse cx="316.6" cy="582.7" rx="8.4" ry="6.3" fill="url(#g5)"/>
<ellipse cx="350.3" cy="607.7" rx="7.4" ry="5.8" fill="url(#g5)"/>
<ellipse cx="399.3" cy="614.4" rx="7.4" ry="5.8" fill="url(#g5)"/>
<ellipse cx="447.4" cy="581.7" rx="7.4" ry="5.8" fill="url(#g5)"/>
<ellipse cx="368.5" cy="578.8" rx="8.9" ry="6.3" fill="url(#g6)"/>
<ellipse cx="423.3" cy="621.1" rx="6.8" ry="4.2" fill="url(#g6)"/>
<ellipse cx="452.2" cy="522.2" rx="7.9" ry="6.3" fill="url(#g7)"/>
<ellipse cx="367.6" cy="460.7" rx="7.6" ry="5.2" fill="url(#g8)"/>
<ellipse cx="445.5" cy="607.7" rx="7.9" ry="6.3" fill="url(#g8)"/>
</g></g>
<line x1="506.5" y1="428.5" x2="506.5" y2="622.5" stroke="rgb(232,212,178)" stroke-width="1"/>
<text transform="translate(369.55,454.22) scale(1.1151,1)" font-size="17.95" fill="#1e1204" stroke="#1e1204" stroke-width="0.3" >RMS=4.0 nm</text>
<line x1="41.90" y1="8.40" x2="41.90" y2="356.80" stroke="#111" stroke-width="1.6"/>
<line x1="513.60" y1="8.40" x2="513.60" y2="356.80" stroke="#111" stroke-width="1.6"/>
<line x1="41.90" y1="9.20" x2="273.80" y2="9.20" stroke="#111" stroke-width="1.6"/>
<line x1="282.00" y1="9.20" x2="513.60" y2="9.20" stroke="#111" stroke-width="1.6"/>
<line x1="41.90" y1="356.00" x2="273.70" y2="356.00" stroke="#111" stroke-width="1.6"/>
<line x1="281.70" y1="356.00" x2="513.60" y2="356.00" stroke="#111" stroke-width="1.6"/>
<line x1="269.40" y1="16.30" x2="278.10" y2="2.20" stroke="#111" stroke-width="1.5"/>
<line x1="277.50" y1="16.30" x2="286.50" y2="2.20" stroke="#111" stroke-width="1.5"/>
<line x1="269.20" y1="363.50" x2="278.00" y2="348.80" stroke="#111" stroke-width="1.5"/>
<line x1="277.30" y1="363.00" x2="286.20" y2="348.80" stroke="#111" stroke-width="1.5"/>
<line x1="41.90" y1="48.70" x2="45.90" y2="48.70" stroke="#111" stroke-width="1.4"/>
<line x1="41.90" y1="88.10" x2="48.90" y2="88.10" stroke="#111" stroke-width="1.4"/>
<line x1="41.90" y1="127.50" x2="45.90" y2="127.50" stroke="#111" stroke-width="1.4"/>
<line x1="41.90" y1="166.90" x2="48.90" y2="166.90" stroke="#111" stroke-width="1.4"/>
<line x1="41.90" y1="206.30" x2="45.90" y2="206.30" stroke="#111" stroke-width="1.4"/>
<line x1="41.90" y1="245.70" x2="48.90" y2="245.70" stroke="#111" stroke-width="1.4"/>
<line x1="41.90" y1="285.10" x2="45.90" y2="285.10" stroke="#111" stroke-width="1.4"/>
<line x1="41.90" y1="324.50" x2="48.90" y2="324.50" stroke="#111" stroke-width="1.4"/>
<line x1="62.10" y1="356.00" x2="62.10" y2="348.80" stroke="#111" stroke-width="1.4"/>
<line x1="92.33" y1="356.00" x2="92.33" y2="352.20" stroke="#111" stroke-width="1.4"/>
<line x1="122.56" y1="356.00" x2="122.56" y2="348.80" stroke="#111" stroke-width="1.4"/>
<line x1="152.79" y1="356.00" x2="152.79" y2="352.20" stroke="#111" stroke-width="1.4"/>
<line x1="183.02" y1="356.00" x2="183.02" y2="348.80" stroke="#111" stroke-width="1.4"/>
<line x1="213.25" y1="356.00" x2="213.25" y2="352.20" stroke="#111" stroke-width="1.4"/>
<line x1="243.48" y1="356.00" x2="243.48" y2="348.80" stroke="#111" stroke-width="1.4"/>
<line x1="301.30" y1="356.00" x2="301.30" y2="352.20" stroke="#111" stroke-width="1.4"/>
<line x1="320.60" y1="356.00" x2="320.60" y2="348.80" stroke="#111" stroke-width="1.4"/>
<line x1="339.90" y1="356.00" x2="339.90" y2="352.20" stroke="#111" stroke-width="1.4"/>
<line x1="359.20" y1="356.00" x2="359.20" y2="348.80" stroke="#111" stroke-width="1.4"/>
<line x1="378.50" y1="356.00" x2="378.50" y2="352.20" stroke="#111" stroke-width="1.4"/>
<line x1="397.80" y1="356.00" x2="397.80" y2="348.80" stroke="#111" stroke-width="1.4"/>
<line x1="417.10" y1="356.00" x2="417.10" y2="352.20" stroke="#111" stroke-width="1.4"/>
<line x1="436.40" y1="356.00" x2="436.40" y2="348.80" stroke="#111" stroke-width="1.4"/>
<line x1="455.70" y1="356.00" x2="455.70" y2="352.20" stroke="#111" stroke-width="1.4"/>
<line x1="475.00" y1="356.00" x2="475.00" y2="348.80" stroke="#111" stroke-width="1.4"/>
<line x1="494.30" y1="356.00" x2="494.30" y2="352.20" stroke="#111" stroke-width="1.4"/>
<line x1="282.30" y1="356.00" x2="282.30" y2="348.80" stroke="#111" stroke-width="1.4"/>
<text transform="translate(48.05,379.23) scale(1.0750,1)" font-size="18.40" fill="#000" stroke="#000" stroke-width="0.3">0.3</text>
<text transform="translate(108.51,379.23) scale(1.0750,1)" font-size="18.40" fill="#000" stroke="#000" stroke-width="0.3">0.6</text>
<text transform="translate(168.95,379.23) scale(1.0750,1)" font-size="18.40" fill="#000" stroke="#000" stroke-width="0.3">0.9</text>
<text transform="translate(229.45,379.23) scale(1.0750,1)" font-size="18.40" fill="#000" stroke="#000" stroke-width="0.3">1.2</text>
<text transform="translate(276.50,379.23) scale(1.0750,1)" font-size="18.40" fill="#000" stroke="#000" stroke-width="0.3">3</text>
<text transform="translate(315.10,379.05) scale(1.0750,1)" font-size="18.40" fill="#000" stroke="#000" stroke-width="0.3">4</text>
<text transform="translate(353.70,379.05) scale(1.0750,1)" font-size="18.40" fill="#000" stroke="#000" stroke-width="0.3">5</text>
<text transform="translate(392.30,379.23) scale(1.0750,1)" font-size="18.40" fill="#000" stroke="#000" stroke-width="0.3">6</text>
<text transform="translate(430.90,379.05) scale(1.0750,1)" font-size="18.40" fill="#000" stroke="#000" stroke-width="0.3">7</text>
<text transform="translate(469.50,379.23) scale(1.0750,1)" font-size="18.40" fill="#000" stroke="#000" stroke-width="0.3">8</text>
<text transform="translate(508.10,379.23) scale(1.0750,1)" font-size="18.40" fill="#000" stroke="#000" stroke-width="0.3">9</text>
<polyline points="42.30,323.50 43.63,323.18 44.95,322.47 46.29,321.79 47.67,321.70 49.04,321.17 50.41,321.35 51.72,322.14 52.99,321.90 54.31,322.13 55.69,322.40 57.07,322.10 58.45,321.76 59.74,321.83 61.02,322.80 62.32,323.37 63.64,321.99 64.96,321.93 66.29,320.83 67.61,321.01 68.92,321.26 70.24,322.33 71.58,321.48 72.93,321.79 74.28,321.36 75.63,320.80 76.97,319.35 78.31,319.83 79.62,319.98 80.89,320.66 82.05,319.74 83.11,319.30 84.18,318.17 85.24,317.75 86.29,319.51 86.98,318.23 87.44,317.25 87.90,316.34 88.35,314.36 88.87,313.27 89.42,312.08 89.97,310.77 90.43,308.86 90.81,308.10 91.20,307.33 91.59,304.68 92.02,304.43 92.46,302.76 92.91,301.09 93.35,300.95 93.74,299.05 94.13,296.82 94.52,296.05 94.91,294.93 95.15,293.21 95.25,292.20 95.35,290.47 95.45,289.40 95.55,288.35 95.65,286.00 96.09,285.11 96.88,283.65 97.66,282.76 98.14,280.88 98.39,279.77 98.63,278.57 98.88,277.68 99.12,276.41 99.37,273.92 99.61,272.78 99.86,272.05 100.11,269.48 100.39,268.79 100.68,267.59 100.96,266.82 101.25,265.20 101.53,263.37 101.82,261.98 102.10,260.66 102.34,260.07 102.56,257.81 102.77,256.48 102.98,255.39 103.20,253.79 103.41,252.37 103.75,250.60 104.16,249.76 104.79,248.33 105.54,247.87 106.30,246.46 107.47,245.42 108.29,244.74 108.67,242.94 109.05,242.21 109.41,240.61 109.55,242.27 109.68,242.82 109.82,244.95 109.95,245.43 110.09,246.67 110.60,248.75 111.15,249.77 111.58,251.58 111.80,253.90 112.01,253.90 112.23,255.38 112.61,257.09 113.06,258.55 113.51,259.58 113.96,260.89 114.15,262.68 114.31,263.99 114.48,264.69 114.64,266.51 114.81,267.95 114.97,268.85 115.14,270.84 115.30,271.73 115.75,273.88 116.19,274.86 116.63,276.14 117.04,277.17 117.27,278.77 117.50,279.31 117.73,281.08 117.96,283.13 118.19,283.40 118.42,286.12 118.65,286.33 118.88,288.84 119.11,289.50 119.34,291.62 119.57,292.71 119.80,293.34 120.02,295.98 120.25,297.45 120.48,298.15 120.71,299.44 120.93,300.88 121.16,301.89 121.39,304.21 121.63,304.85 122.12,306.39 122.62,307.36 123.12,308.74 123.63,309.76 124.13,312.21 124.64,312.88 125.14,314.69 125.94,315.41 126.77,316.22 127.96,317.10 129.20,317.65 130.49,318.45 131.77,318.83 133.09,319.19 134.46,318.43 135.84,318.42 137.21,319.26 138.61,318.13 140.01,317.89 141.41,318.44 142.81,318.85 144.21,317.61 145.61,318.26 147.01,318.16 148.41,317.74 149.81,318.94 151.21,318.69 152.50,318.20 153.80,317.29 155.13,317.60 156.51,317.39 157.89,317.81 159.27,317.61 160.65,317.80 162.03,319.01 163.41,317.94 164.79,318.07 166.18,317.68 167.56,317.26 168.93,316.96 170.29,317.14 171.67,316.49 173.06,316.32 174.43,316.15 175.79,316.32 177.09,315.97 178.16,316.75 178.84,315.36 179.45,313.73 180.07,313.52 180.69,312.27 181.49,311.63 182.48,312.93 183.47,312.48 184.46,311.51 185.46,310.56 186.26,308.79 187.03,308.51 187.80,306.09 188.62,305.91 189.46,304.62 190.29,303.66 191.12,302.99 192.20,301.93 193.34,299.94 194.38,300.12 195.13,300.93 195.69,298.82 196.26,297.99 197.56,298.58 198.89,297.85 199.92,298.59 200.41,298.92 200.70,297.45 200.99,295.95 201.28,294.70 201.57,292.93 202.11,291.36 202.85,290.78 203.52,289.20 203.73,287.51 203.94,287.09 204.15,285.45 204.36,284.28 204.57,282.26 204.78,281.03 205.35,279.59 205.94,278.38 206.54,277.60 207.14,275.89 207.74,275.13 208.17,273.81 208.33,273.18 208.50,270.25 208.66,269.88 208.83,268.05 209.00,266.69 209.16,264.65 209.27,263.70 209.36,262.84 209.45,261.07 209.54,259.75 209.64,258.18 209.73,257.43 209.82,255.51 209.91,253.13 210.00,252.41 210.09,250.43 210.18,248.46 210.27,248.28 210.36,247.72 210.45,245.75 210.54,243.80 210.63,242.50 210.72,242.04 210.81,240.20 210.90,238.75 210.99,237.31 211.09,235.95 211.18,234.90 211.27,233.38 211.36,231.83 211.45,229.87 211.54,229.17 211.63,227.23 211.72,226.63 211.81,224.17 211.90,223.28 212.00,221.94 212.09,219.95 212.18,219.92 212.26,218.41 212.34,216.14 212.42,215.30 212.51,213.72 212.59,210.98 212.67,210.87 212.75,209.33 212.83,207.99 212.91,206.07 212.99,205.03 213.08,203.68 213.16,202.89 213.24,201.11 213.32,199.56 213.40,198.85 213.48,196.51 213.56,195.19 213.65,193.14 213.73,193.27 213.81,191.60 213.92,190.18 214.03,188.67 214.14,187.02 214.24,185.67 214.35,184.06 214.46,182.69 214.57,181.40 214.68,180.66 214.78,178.84 214.89,177.16 215.00,175.53 215.11,174.11 215.22,173.72 215.33,171.83 215.43,170.23 215.54,168.65 215.65,166.91 215.76,165.98 215.87,165.00 215.98,163.04 216.08,161.71 216.17,160.32 216.25,159.07 216.33,156.90 216.40,156.11 216.48,154.43 216.56,153.82 216.64,151.67 216.72,150.88 216.80,149.91 216.88,147.68 216.96,146.15 217.04,145.11 217.12,143.62 217.20,141.78 217.28,141.03 217.35,140.33 217.43,137.91 217.51,136.53 217.59,134.76 217.67,133.97 217.75,131.87 217.83,130.53 217.91,130.20 217.99,127.82 218.07,127.32 218.15,126.12 218.22,124.15 218.30,122.88 218.39,122.11 218.48,119.74 218.57,118.17 218.66,116.43 218.75,115.66 218.84,114.90 218.93,113.27 219.02,111.02 219.11,109.66 219.20,108.42 219.29,107.38 219.37,105.75 219.46,104.54 219.55,103.18 219.64,101.51 219.73,100.23 219.82,98.94 219.91,97.41 220.00,96.28 220.09,95.50 220.18,93.52 220.28,91.88 220.38,89.70 220.48,89.24 220.58,86.79 220.68,85.63 220.78,85.25 220.88,83.79 220.99,82.00 221.09,79.90 221.19,79.11 221.29,77.57 221.39,76.77 221.49,76.10 221.68,73.79 221.88,71.95 222.07,70.39 222.26,69.50 222.46,68.06 222.65,66.23 222.84,65.41 223.03,63.46 223.22,63.08 223.41,61.67 223.60,60.30 223.99,58.25 224.39,57.35 224.78,55.71 225.18,54.25 225.28,52.89 225.26,51.06 225.23,49.59 225.21,49.20 225.18,47.35 225.16,46.13 225.13,45.08 225.11,42.45 225.16,43.41 225.25,45.24 225.34,46.74 225.43,47.79 225.52,49.83 225.61,50.86 225.70,51.61 225.79,53.14 225.88,55.32 226.09,56.55 226.32,56.87 226.45,59.73 226.54,60.79 226.62,62.52 226.70,63.14 226.79,64.58 226.87,65.61 226.95,68.66 227.04,68.83 227.17,71.02 227.49,71.38 227.81,73.11 228.13,73.65 228.45,75.59 228.63,77.60 228.80,77.98 228.96,80.42 229.12,81.48 229.29,82.25 229.42,83.89 229.49,85.31 229.56,86.89 229.63,88.07 229.70,89.34 229.77,90.98 229.84,92.05 229.91,93.34 229.98,95.29 230.05,97.11 230.12,97.43 230.19,99.52 230.26,100.62 230.33,101.88 230.40,104.10 230.47,104.88 230.54,107.19 230.61,107.56 230.68,109.49 230.75,110.61 230.82,111.78 230.89,113.78 230.96,114.84 231.04,116.59 231.13,117.69 231.23,118.62 231.33,120.46 231.43,121.93 231.53,123.74 231.63,124.30 231.73,126.08 231.82,126.72 231.92,129.19 232.02,129.81 232.12,130.88 232.22,133.07 232.32,134.99 232.41,135.20 232.51,136.80 232.61,138.35 232.71,139.58 232.81,141.65 232.91,142.52 233.00,143.95 233.10,145.94 233.20,146.73 233.30,148.67 233.40,149.43 233.50,150.72 233.60,151.84 233.69,154.90 233.79,155.32 233.89,156.97 233.98,158.25 234.08,159.73 234.17,161.08 234.27,163.32 234.36,163.39 234.45,164.55 234.55,166.20 234.64,167.45 234.73,169.79 234.83,171.22 234.92,171.81 235.02,173.02 235.11,174.88 235.20,177.07 235.30,176.57 235.39,179.48 235.49,180.15 235.58,182.50 235.67,182.95 235.77,184.70 235.86,185.55 235.95,187.19 236.05,189.65 236.14,190.80 236.23,191.65 236.31,192.83 236.39,193.77 236.47,195.85 236.56,197.41 236.64,198.78 236.72,200.18 236.80,201.12 236.88,202.99 236.96,204.40 237.04,206.40 237.13,208.06 237.21,208.56 237.29,209.67 237.37,211.39 237.45,212.54 237.53,213.88 237.61,215.59 237.70,216.54 237.78,218.69 237.84,219.77 237.90,221.33 237.96,222.53 238.02,223.69 238.08,224.99 238.13,226.71 238.19,227.97 238.25,229.72 238.31,231.02 238.37,231.80 238.43,233.85 238.48,234.61 238.54,236.34 238.60,237.89 238.66,238.49 238.72,240.86 238.78,242.29 238.83,243.55 238.89,244.83 238.95,246.25 239.01,247.38 239.07,249.10 239.16,250.37 239.31,252.06 239.46,252.87 239.60,254.91 239.75,256.26 239.89,257.53 240.04,258.79 240.18,260.63 240.33,261.02 240.47,263.38 240.62,264.67 240.77,266.08 240.93,267.52 241.09,268.45 241.24,270.02 241.40,271.81 241.55,273.11 241.71,274.41 241.87,275.02 242.02,277.34 242.18,279.02 242.33,280.34 242.49,281.38 242.64,281.97 242.80,284.49 242.95,285.39 243.11,285.71 243.26,288.41 243.42,288.97 243.63,290.44 243.92,292.11 244.20,294.34 244.49,294.97 244.77,296.63 245.06,298.67 245.35,299.97 245.63,300.58 245.92,301.89 246.26,302.79 246.60,304.40 246.94,306.27 247.28,307.61 247.62,308.85 247.96,310.60 248.31,311.16 249.18,312.59 250.05,314.04 250.64,315.24 251.18,316.75 251.84,317.63 253.03,318.06 254.22,319.11 255.39,319.26 256.56,319.74 257.76,320.46 258.97,319.46 260.15,319.40 261.27,319.35 262.38,320.80 263.70,320.80 265.09,320.50 266.48,319.69 267.80,320.08 269.12,320.17 270.46,319.55 271.81,318.74 272.80,319.99" fill="none" stroke="#000" stroke-width="1.5" stroke-linejoin="round" stroke-linecap="round" />
<polyline points="282.20,310.46 282.50,303.58 282.80,310.87 283.10,304.85 283.40,310.25 283.70,299.63 284.00,314.19 284.30,305.78 284.60,312.57 284.90,304.45 285.20,314.65 285.50,306.22 285.80,314.86 286.10,305.84 286.40,312.89 286.70,305.94 287.00,302.98 287.30,314.78 287.60,310.39 287.90,306.75 288.20,310.82 288.50,305.77 288.80,311.50 289.10,304.60 289.40,312.14 289.70,303.50 290.00,312.32 290.30,304.65 290.60,309.82 290.90,306.26 291.20,309.66 291.50,306.52 291.80,311.00 292.10,305.48 292.40,309.24 292.70,305.58 293.00,310.74 293.30,306.99 293.60,310.78 293.90,307.19 294.20,309.95 294.50,306.47 294.80,310.28 295.10,307.24 295.40,311.73 295.70,305.48 296.00,311.32 296.30,307.38 296.60,311.26 296.90,308.48 297.20,311.09 297.50,313.47 297.80,310.52 298.10,308.70 298.40,310.46 298.70,307.87 299.00,310.53 299.30,307.67 299.60,309.79 299.90,313.37 300.20,310.29 300.50,306.65 300.80,310.09 301.10,305.79 301.40,311.69 301.70,306.95 302.00,310.41 302.30,314.96 302.60,310.94 302.90,306.08 303.20,311.58 303.50,306.59 303.80,314.26 304.10,307.69 304.40,304.98 304.70,307.00 305.00,311.22 305.30,307.33 305.60,311.34 305.90,307.15 306.20,311.65 306.50,308.64 306.80,312.56 307.10,309.74 307.40,314.02 307.70,308.78 308.00,312.72 308.30,308.84 308.60,313.11 308.90,309.12 309.20,312.76 309.50,310.01 309.80,312.89 310.10,310.41 310.40,313.14 310.70,309.90 311.00,312.89 311.30,308.91 311.60,312.86 311.90,307.56 312.20,312.49 312.50,307.00 312.80,313.56 313.10,308.14 313.40,313.50 313.70,308.02 314.00,312.11 314.30,307.91 314.60,311.63 314.90,308.77 315.20,311.21 315.50,308.97 315.80,312.14 316.10,308.36 316.40,312.25 316.70,307.10 317.00,313.37 317.30,306.73 317.60,312.94 317.90,305.91 318.20,312.54 318.50,306.50 318.80,315.04 319.10,305.49 319.40,315.21 319.70,307.27 320.00,315.26 320.30,309.06 320.60,318.02 320.90,318.59 321.20,314.02 321.50,310.17 321.80,314.05 322.10,309.61 322.40,313.66 322.70,309.39 323.00,314.42 323.30,309.56 323.60,314.10 323.90,309.73 324.20,314.25 324.50,310.63 324.80,313.99 325.10,308.72 325.40,314.95 325.70,310.13 326.00,315.43 326.30,305.53 326.60,314.92 326.90,309.43 327.20,314.08 327.50,309.27 327.80,315.19 328.10,309.21 328.40,314.39 328.70,309.43 329.00,313.33 329.30,309.29 329.60,314.50 329.90,310.71 330.20,314.78 330.50,309.99 330.80,313.25 331.10,309.62 331.40,315.57 331.70,309.58 332.00,312.42 332.30,310.11 332.60,313.24 332.90,309.43 333.20,312.66 333.50,309.12 333.80,313.12 334.10,308.90 334.40,313.08 334.70,308.43 335.00,313.83 335.30,309.72 335.60,314.39 335.90,307.81 336.20,313.17 336.50,309.61 336.80,313.96 337.10,308.41 337.40,314.01 337.70,308.98 338.00,314.44 338.30,310.19 338.60,314.00 338.90,310.82 339.20,314.32 339.50,308.41 339.80,314.37 340.10,310.96 340.40,314.72 340.70,311.81 341.00,314.99 341.30,310.16 341.60,313.62 341.90,310.62 342.20,315.57 342.50,308.94 342.80,314.25 343.10,309.75 343.40,317.20 343.70,310.75 344.00,315.42 344.30,310.12 344.60,313.63 344.90,310.11 345.20,314.89 345.50,316.41 345.80,313.91 346.10,311.69 346.40,313.33 346.70,308.68 347.00,313.63 347.30,311.68 347.60,313.57 347.90,311.33 348.20,312.92 348.50,310.97 348.80,313.62 349.10,310.28 349.40,313.38 349.70,311.08 350.00,313.53 350.30,309.89 350.60,314.10 350.90,311.29 351.20,313.78 351.50,310.93 351.80,313.57 352.10,312.30 352.40,313.55 352.70,312.68 353.00,314.11 353.30,312.96 353.60,314.99 353.90,312.33 354.20,315.64 354.50,312.21 354.80,315.46 355.10,313.12 355.40,315.83 355.70,312.09 356.00,316.28 356.30,312.24 356.60,316.27 356.90,312.52 357.20,316.59 357.50,312.81 357.80,316.82 358.10,313.01 358.40,315.58 358.70,312.75 359.00,316.19 359.30,312.57 359.60,317.16 359.90,313.57 360.20,316.43 360.50,313.91 360.80,318.19 361.10,311.04 361.40,317.90 361.70,313.68 362.00,321.56 362.30,312.78 362.60,316.71 362.90,312.72 363.20,316.56 363.50,312.42 363.80,316.87 364.10,313.16 364.40,316.19 364.70,313.04 365.00,315.55 365.30,313.49 365.60,316.25 365.90,313.92 366.20,316.09 366.50,313.23 366.80,315.65 367.10,314.19 367.40,316.89 367.70,314.68 368.00,316.77 368.30,313.76 368.60,317.92 368.90,315.00 369.20,317.59 369.50,314.93 369.80,317.28 370.10,314.71 370.40,316.82 370.70,314.49 371.00,316.96 371.30,314.31 371.60,316.64 371.90,314.66 372.20,316.00 372.50,314.60 372.80,315.97 373.10,314.76 373.40,316.17 373.70,314.67 374.00,315.82 374.30,314.55 374.60,315.91 374.90,314.32 375.20,316.03 375.50,313.89 375.80,316.35 376.10,314.18 376.40,315.94 376.70,314.51 377.00,316.16 377.30,314.05 377.60,316.94 377.90,313.97 378.20,310.62 378.50,314.08 378.80,317.44 379.10,313.79 379.40,310.63 379.70,313.60 380.00,316.79 380.30,313.84 380.60,321.47 380.90,313.94 381.20,317.32 381.50,314.48 381.80,317.63 382.10,313.53 382.40,316.88 382.70,314.74 383.00,317.89 383.30,315.17 383.60,317.25 383.90,315.18 384.20,318.06 384.50,316.04 384.80,317.41 385.10,315.85 385.40,317.57 385.70,315.27 386.00,318.26 386.30,315.49 386.60,317.94 386.90,315.50 387.20,317.25 387.50,314.71 387.80,317.27 388.10,315.43 388.40,317.82 388.70,314.69 389.00,320.31 389.30,314.62 389.60,320.56 389.90,314.70 390.20,317.31 390.50,313.49 390.80,316.63 391.10,313.82 391.40,317.09 391.70,313.21 392.00,316.65 392.30,314.12 392.60,316.74 392.90,320.27 393.20,317.03 393.50,315.23 393.80,317.37 394.10,314.42 394.40,317.68 394.70,315.44 395.00,318.06 395.30,314.86 395.60,318.58 395.90,314.34 396.20,321.68 396.50,315.00 396.80,317.90 397.10,314.83 397.40,318.98 397.70,314.84 398.00,318.62 398.30,315.47 398.60,317.85 398.90,315.95 399.20,318.28 399.50,315.22 399.80,317.89 400.10,314.52 400.40,318.84 400.70,314.92 401.00,317.64 401.30,314.56 401.60,316.87 401.90,314.35 402.20,316.53 402.50,313.91 402.80,315.98 403.10,314.36 403.40,317.86 403.70,314.17 404.00,315.62 404.30,314.34 404.60,315.82 404.90,314.88 405.20,315.92 405.50,314.83 405.80,316.58 406.10,315.31 406.40,316.72 406.70,315.14 407.00,317.92 407.30,315.04 407.60,317.72 407.90,315.41 408.20,317.94 408.50,316.10 408.80,318.68 409.10,315.49 409.40,319.70 409.70,315.15 410.00,319.40 410.30,314.87 410.60,318.50 410.90,314.58 411.20,318.13 411.50,313.13 411.80,319.67 412.10,314.88 412.40,318.77 412.70,315.40 413.00,312.31 413.30,315.85 413.60,319.12 413.90,316.18 414.20,312.75 414.50,316.04 414.80,318.39 415.10,313.92 415.40,318.19 415.70,316.22 416.00,317.83 416.30,314.59 416.60,317.29 416.90,316.09 417.20,317.98 417.50,315.85 417.80,317.93 418.10,316.14 418.40,317.83 418.70,316.57 419.00,318.48 419.30,316.31 419.60,318.12 419.90,315.39 420.20,318.37 420.50,315.79 420.80,319.17 421.10,315.67 421.40,319.09 421.70,315.50 422.00,318.23 422.30,315.06 422.60,312.58 422.90,315.64 423.20,318.29 423.50,315.29 423.80,319.32 424.10,314.72 424.40,318.95 424.70,315.90 425.00,319.93 425.30,315.24 425.60,319.96 425.90,316.69 426.20,320.55 426.50,316.01 426.80,320.50 427.10,316.56 427.40,313.39 427.70,317.60 428.00,323.09 428.30,317.05 428.60,320.43 428.90,316.94 429.20,322.03 429.50,316.52 429.80,319.31 430.10,315.69 430.40,318.92 430.70,311.79 431.00,317.61 431.30,314.85 431.60,317.06 431.90,313.46 432.20,316.00 432.50,317.56 432.80,314.59 433.10,312.23 433.40,313.62 433.70,311.28 434.00,313.75 434.30,309.39 434.60,313.21 434.90,309.89 435.20,315.71 435.50,311.08 435.80,314.54 436.10,312.11 436.40,316.17 436.70,313.49 437.00,316.15 437.30,311.19 437.60,317.33 437.90,315.06 438.20,318.11 438.50,315.78 438.80,318.36 439.10,316.11 439.40,319.55 439.70,316.49 440.00,319.68 440.30,317.33 440.60,319.80 440.90,316.68 441.20,319.94 441.50,317.60 441.80,321.23 442.10,317.45 442.40,320.06 442.70,317.49 443.00,320.16 443.30,316.15 443.60,320.65 443.90,316.43 444.20,319.64 444.50,316.09 444.80,319.20 445.10,316.66 445.40,319.17 445.70,316.06 446.00,319.14 446.30,321.66 446.60,318.34 446.90,316.71 447.20,318.22 447.50,316.21 447.80,318.53 448.10,316.09 448.40,317.73 448.70,315.76 449.00,318.06 449.30,315.83 449.60,317.87 449.90,316.13 450.20,318.26 450.50,315.66 450.80,318.46 451.10,316.09 451.40,318.54 451.70,312.75 452.00,318.62 452.30,316.03 452.60,313.40 452.90,316.16 453.20,318.35 453.50,316.62 453.80,319.38 454.10,315.99 454.40,313.60 454.70,316.39 455.00,319.31 455.30,317.57 455.60,319.43 455.90,317.60 456.20,323.36 456.50,317.56 456.80,319.80 457.10,318.14 457.40,319.28 457.70,317.66 458.00,319.32 458.30,317.48 458.60,319.07 458.90,316.74 459.20,319.51 459.50,317.43 459.80,319.98 460.10,313.56 460.40,319.41 460.70,316.11 461.00,320.02 461.30,317.14 461.60,319.81 461.90,314.69 462.20,320.67 462.50,316.33 462.80,320.38 463.10,316.39 463.40,320.19 463.70,317.21 464.00,320.18 464.30,317.20 464.60,319.84 464.90,317.76 465.20,319.81 465.50,317.75 465.80,319.61 466.10,318.56 466.40,320.15 466.70,318.92 467.00,320.05 467.30,318.42 467.60,320.71 467.90,318.62 468.20,320.18 468.50,319.11 468.80,320.18 469.10,319.02 469.40,320.03 469.70,318.87 470.00,320.06 470.30,318.74 470.60,320.14 470.90,317.83 471.20,320.36 471.50,314.96 471.80,324.00 472.10,318.09 472.40,319.62 472.70,317.53 473.00,319.95 473.30,316.84 473.60,319.93 473.90,317.52 474.20,319.55 474.50,317.39 474.80,320.55 475.10,317.55 475.40,320.44 475.70,317.32 476.00,319.77 476.30,317.67 476.60,319.80 476.90,318.11 477.20,320.53 477.50,318.48 477.80,320.60 478.10,318.40 478.40,321.01 478.70,319.01 479.00,321.59 479.30,318.80 479.60,320.92 479.90,319.19 480.20,321.04 480.50,318.75 480.80,321.47 481.10,318.94 481.40,321.80 481.70,318.97 482.00,322.54 482.30,317.98 482.60,321.61 482.90,317.75 483.20,322.20 483.50,317.80 483.80,321.83 484.10,318.24 484.40,321.32 484.70,318.20 485.00,321.01 485.30,318.58 485.60,321.20 485.90,318.91 486.20,321.09 486.50,318.90 486.80,320.88 487.10,319.18 487.40,321.10 487.70,319.57 488.00,320.93 488.30,319.06 488.60,321.09 488.90,319.25 489.20,320.55 489.50,318.98 489.80,320.41 490.10,318.24 490.40,321.15 490.70,316.07 491.00,320.80 491.30,317.85 491.60,321.01 491.90,318.04 492.20,321.04 492.50,318.35 492.80,321.28 493.10,317.91 493.40,321.55 493.70,317.93 494.00,321.84 494.30,319.02 494.60,321.81 494.90,318.70 495.20,321.91 495.50,319.89 495.80,322.92 496.10,319.94 496.40,322.28 496.70,319.47 497.00,322.65 497.30,319.95 497.60,323.21 497.90,318.60 498.20,322.44 498.50,319.72 498.80,321.80 499.10,319.17 499.40,321.22 499.70,318.79 500.00,321.06 500.30,318.75 500.60,320.62 500.90,322.40 501.20,320.97 501.50,317.04 501.80,319.66 502.10,317.64 502.40,320.46 502.70,316.98 503.00,320.02 503.30,318.04 503.60,320.25 503.90,318.46 504.20,320.97 504.50,318.49 504.80,321.26 505.10,323.03 505.40,320.74 505.70,318.49 506.00,321.50 506.30,318.98 506.60,321.53 506.90,318.70 507.20,321.75 507.50,317.71 507.80,321.25 508.10,318.06 508.40,322.14 508.70,318.17 509.00,322.00 509.30,323.13 509.60,320.97 509.90,318.81 510.20,320.99 510.50,318.99 510.80,321.39 511.10,318.68 511.40,321.42 511.70,319.35 512.00,321.62 512.30,319.22 512.60,322.48 512.90,319.84" fill="none" stroke="#000" stroke-width="1.2" stroke-linejoin="round" stroke-linecap="round" />
<text transform="translate(61.80,29.62) scale(1.1370,1)" font-size="18.23" fill="#000" stroke="#000" stroke-width="0.3" >(a)</text>
<text transform="translate(200.22,33.21) scale(1.0306,1)" font-size="19.08" fill="#000" stroke="#000" stroke-width="0.3" >Ga L</text>
<text transform="translate(243.78,33.13) scale(1.1262,1)" font-size="16.99" fill="#000" stroke="#000" stroke-width="0.3"  font-family="Liberation Serif, serif">α</text>
<text transform="translate(91.66,232.70) scale(1.0103,1)" font-size="19.65" fill="#000" stroke="#000" stroke-width="0.3" >O K</text>
<text transform="translate(126.85,232.74) scale(1.2372,1)" font-size="16.17" fill="#000" stroke="#000" stroke-width="0.3"  font-family="Liberation Serif, serif">α</text>
<text transform="translate(414.04,259.90) scale(1.0110,1)" font-size="19.93" fill="#000" stroke="#000" stroke-width="0.3" >Er L</text>
<text transform="translate(452.00,259.74) scale(1.1427,1)" font-size="16.37" fill="#000" stroke="#000" stroke-width="0.3"  font-family="Liberation Serif, serif">α</text>
<text transform="translate(467.05,302.90) scale(0.9978,1)" font-size="19.79" fill="#000" stroke="#000" stroke-width="0.3" >x10</text>
<line x1="434.40" y1="268.30" x2="434.40" y2="294.00" stroke="#111" stroke-width="1.4"/>
<path d="M431.9,292.2 L436.9,292.2 L434.4,302.3 Z" fill="#000"/>
<text transform="translate(209.70,406.87) scale(1.1227,1)" font-size="19.41" fill="#000" stroke="#000" stroke-width="0.3" >Energy (keV)</text>
<text transform="translate(17.80,282.62) rotate(-90) scale(1.0150,1)" font-size="21.50" stroke="#000" stroke-width="0.3">Intensity (arb. units)</text>
<line x1="39.40" y1="427.20" x2="39.40" y2="773.40" stroke="#111" stroke-width="1.6"/>
<line x1="508.10" y1="427.20" x2="508.10" y2="773.40" stroke="#111" stroke-width="1.6"/>
<line x1="38.60" y1="428.00" x2="508.90" y2="428.00" stroke="#111" stroke-width="1.6"/>
<line x1="38.60" y1="772.60" x2="508.90" y2="772.60" stroke="#111" stroke-width="1.6"/>
<line x1="39.40" y1="462.30" x2="43.40" y2="462.30" stroke="#111" stroke-width="1.4"/>
<line x1="39.40" y1="496.60" x2="46.40" y2="496.60" stroke="#111" stroke-width="1.4"/>
<line x1="39.40" y1="530.80" x2="43.40" y2="530.80" stroke="#111" stroke-width="1.4"/>
<line x1="39.40" y1="565.00" x2="46.40" y2="565.00" stroke="#111" stroke-width="1.4"/>
<line x1="39.40" y1="599.20" x2="43.40" y2="599.20" stroke="#111" stroke-width="1.4"/>
<line x1="39.40" y1="633.40" x2="46.40" y2="633.40" stroke="#111" stroke-width="1.4"/>
<line x1="39.40" y1="667.60" x2="43.40" y2="667.60" stroke="#111" stroke-width="1.4"/>
<line x1="39.40" y1="701.80" x2="46.40" y2="701.80" stroke="#111" stroke-width="1.4"/>
<line x1="39.40" y1="736.00" x2="43.40" y2="736.00" stroke="#111" stroke-width="1.4"/>
<line x1="39.40" y1="770.20" x2="46.40" y2="770.20" stroke="#111" stroke-width="1.4"/>
<line x1="78.46" y1="772.60" x2="78.46" y2="769.40" stroke="#111" stroke-width="1.4"/>
<line x1="117.52" y1="772.60" x2="117.52" y2="767.10" stroke="#111" stroke-width="1.4"/>
<line x1="156.58" y1="772.60" x2="156.58" y2="769.40" stroke="#111" stroke-width="1.4"/>
<line x1="195.63" y1="772.60" x2="195.63" y2="767.10" stroke="#111" stroke-width="1.4"/>
<line x1="234.69" y1="772.60" x2="234.69" y2="769.40" stroke="#111" stroke-width="1.4"/>
<line x1="273.75" y1="772.60" x2="273.75" y2="767.10" stroke="#111" stroke-width="1.4"/>
<line x1="312.81" y1="772.60" x2="312.81" y2="769.40" stroke="#111" stroke-width="1.4"/>
<line x1="351.87" y1="772.60" x2="351.87" y2="767.10" stroke="#111" stroke-width="1.4"/>
<line x1="390.93" y1="772.60" x2="390.93" y2="769.40" stroke="#111" stroke-width="1.4"/>
<line x1="429.98" y1="772.60" x2="429.98" y2="767.10" stroke="#111" stroke-width="1.4"/>
<line x1="469.04" y1="772.60" x2="469.04" y2="769.40" stroke="#111" stroke-width="1.4"/>
<text transform="translate(28.53,795.45) scale(1.0000,1)" font-size="19.00" fill="#000" stroke="#000" stroke-width="0.3">10</text>
<text transform="translate(106.65,795.45) scale(1.0000,1)" font-size="19.00" fill="#000" stroke="#000" stroke-width="0.3">20</text>
<text transform="translate(184.77,795.45) scale(1.0000,1)" font-size="19.00" fill="#000" stroke="#000" stroke-width="0.3">30</text>
<text transform="translate(262.88,795.45) scale(1.0000,1)" font-size="19.00" fill="#000" stroke="#000" stroke-width="0.3">40</text>
<text transform="translate(341.00,795.45) scale(1.0000,1)" font-size="19.00" fill="#000" stroke="#000" stroke-width="0.3">50</text>
<text transform="translate(419.12,795.45) scale(1.0000,1)" font-size="19.00" fill="#000" stroke="#000" stroke-width="0.3">60</text>
<text transform="translate(497.23,795.45) scale(1.0000,1)" font-size="19.00" fill="#000" stroke="#000" stroke-width="0.3">70</text>
<polyline points="39.80,762.48 40.10,756.60 40.40,758.97 40.70,755.88 41.00,760.66 41.30,755.93 41.60,759.83 41.90,756.22 42.20,759.04 42.50,755.17 42.80,760.97 43.10,756.53 43.40,760.11 43.70,756.19 44.00,759.44 44.30,756.39 44.60,760.90 44.90,755.80 45.20,760.09 45.50,756.12 45.80,759.55 46.10,756.69 46.40,759.17 46.70,757.14 47.00,759.02 47.30,757.16 47.60,759.95 47.90,756.69 48.20,759.55 48.50,756.39 48.80,760.28 49.10,756.39 49.40,760.19 49.70,757.14 50.00,761.13 50.30,756.51 50.60,759.83 50.90,756.57 51.20,761.17 51.50,756.85 51.80,760.80 52.10,756.20 52.40,759.82 52.70,756.91 53.00,761.40 53.30,755.57 53.60,759.85 53.90,755.81 54.20,761.42 54.50,755.86 54.80,760.24 55.10,756.15 55.40,760.95 55.70,756.28 56.00,759.92 56.30,756.04 56.60,761.63 56.90,756.61 57.20,760.95 57.50,757.27 57.80,760.97 58.10,757.75 58.40,760.26 58.70,756.12 59.00,762.97 59.30,757.47 59.60,760.40 59.90,756.49 60.20,760.70 60.50,756.92 60.80,760.38 61.10,757.80 61.40,760.22 61.70,757.98 62.00,760.30 62.30,758.07 62.60,761.22 62.90,757.38 63.20,760.39 63.50,758.26 63.80,760.92 64.10,758.40 64.40,760.77 64.70,758.20 65.00,760.81 65.30,756.23 65.60,760.85 65.90,757.73 66.20,760.33 66.50,757.79 66.80,760.79 67.10,757.49 67.40,761.02 67.70,756.57 68.00,761.50 68.30,757.93 68.60,760.78 68.90,758.46 69.20,760.86 69.50,757.25 69.80,762.15 70.10,758.55 70.40,761.84 70.70,758.22 71.00,762.26 71.30,757.97 71.60,761.67 71.90,756.92 72.20,762.12 72.50,757.40 72.80,762.07 73.10,758.43 73.40,762.41 73.70,757.79 74.00,761.19 74.30,757.57 74.60,761.58 74.90,756.05 75.20,763.16 75.50,757.71 75.80,761.26 76.10,756.90 76.40,761.72 76.70,756.85 77.00,762.64 77.30,756.46 77.60,761.90 77.90,758.59 78.20,763.80 78.50,756.78 78.80,763.84 79.10,758.76 79.40,762.62 79.70,756.51 80.00,762.79 80.30,758.09 80.60,762.94 80.90,758.62 81.20,761.97 81.50,759.21 81.80,761.74 82.10,759.39 82.40,762.25 82.70,758.11 83.00,761.61 83.30,759.08 83.60,761.68 83.90,758.30 84.20,763.11 84.50,758.27 84.80,763.10 85.10,757.28 85.40,762.17 85.70,758.29 86.00,762.99 86.30,756.65 86.60,764.37 86.90,759.00 87.20,763.73 87.50,756.87 87.80,763.57 88.10,757.72 88.40,762.59 88.70,757.40 89.00,762.35 89.30,757.54 89.60,763.66 89.90,758.45 90.20,762.90 90.50,757.07 90.80,764.00 91.10,758.15 91.40,762.72 91.70,757.77 92.00,763.70 92.30,756.89 92.60,756.23 92.90,757.64 93.20,763.65 93.50,757.53 93.80,763.00 94.10,757.47 94.40,762.61 94.70,758.73 95.00,763.58 95.30,758.88 95.60,763.66 95.90,757.77 96.20,763.73 96.50,757.46 96.80,762.50 97.10,759.21 97.40,763.77 97.70,757.18 98.00,762.35 98.30,759.24 98.60,762.63 98.90,758.30 99.20,763.52 99.50,757.78 99.80,762.46" fill="none" stroke="#000" stroke-width="1.3" stroke-linejoin="round" stroke-linecap="round" />
<polyline points="99.50,761.02 99.74,761.14 99.98,760.02 100.14,759.42 100.21,758.98 100.29,757.76 100.36,757.87 100.44,758.01 100.51,757.25 100.58,756.38 100.66,756.29 100.73,754.97 100.81,755.08 100.88,754.87 100.96,754.44 101.03,753.43 101.11,753.52 101.18,753.36 101.26,752.06 101.33,751.98 101.41,750.68 101.48,750.04 101.55,750.45 101.63,749.76 101.70,749.32 101.78,748.55 101.85,748.15 101.93,748.05 102.00,747.87 102.02,746.69 102.05,745.69 102.07,746.21 102.10,745.48 102.12,745.01 102.14,744.33 102.17,744.58 102.19,743.29 102.21,742.95 102.24,741.62 102.26,741.57 102.29,741.03 102.31,740.76 102.33,740.39 102.36,739.51 102.38,739.88 102.40,738.40 102.43,738.11 102.45,737.85 102.47,736.83 102.50,736.97 102.52,736.49 102.55,735.67 102.57,735.94 102.59,734.80 102.62,734.37 102.64,733.44 102.66,732.69 102.69,732.55 102.71,732.16 102.74,731.61 102.76,731.54 102.78,729.94 102.81,729.88 102.83,729.13 102.85,729.74 102.88,728.58 102.90,728.09 102.93,727.39 102.95,727.59 102.97,726.63 103.00,726.35 103.02,725.06 103.04,725.69 103.07,724.91 103.09,724.47 103.11,724.21 103.14,723.21 103.16,722.72 103.19,722.53 103.21,721.93 103.23,721.19 103.24,720.79 103.26,720.10 103.28,720.03 103.30,719.60 103.31,718.78 103.33,718.93 103.35,717.24 103.37,717.19 103.38,717.38 103.40,716.13 103.42,715.21 103.44,715.77 103.46,714.97 103.47,713.86 103.49,714.05 103.51,712.92 103.53,712.31 103.54,712.22 103.56,711.61 103.58,710.89 103.60,710.65 103.61,709.92 103.63,709.80 103.65,709.27 103.67,709.04 103.69,708.12 103.70,707.31 103.72,706.81 103.74,706.69 103.76,706.81 103.77,706.07 103.79,705.05 103.81,705.11 103.83,703.87 103.85,704.13 103.86,703.14 103.88,703.04 103.90,702.49 103.92,701.68 103.93,701.39 103.95,700.40 103.97,700.25 103.99,700.15 104.00,700.71 104.02,699.02 104.04,698.31 104.06,697.42 104.08,697.65 104.09,696.19 104.13,695.99 104.17,695.90 104.22,694.86 104.26,695.32 104.30,694.67 104.35,693.58 104.39,693.09 104.44,692.32 104.48,691.80 104.52,691.94 104.57,691.51 104.61,690.92 104.66,690.39 104.70,689.60 104.74,689.42 104.79,688.28 104.83,688.30 104.88,688.32 104.92,687.77 104.97,686.64 105.01,686.19 105.05,686.29 105.10,685.94 105.22,684.30 105.34,684.19 105.46,683.93 105.58,683.80 105.70,682.59 105.82,682.62 105.94,681.81 106.06,682.26 106.19,681.09 106.31,680.41 106.43,679.85 106.55,679.85 106.67,679.24 106.79,678.13 106.91,678.10 107.07,677.08 107.30,676.85 107.54,676.22 107.77,675.76 108.01,675.55 108.24,675.00 108.48,675.09 108.70,674.79 108.77,674.92 108.83,675.11 108.89,676.28 108.95,675.78 109.02,676.31 109.08,677.74 109.14,678.22 109.20,678.82 109.27,678.90 109.33,679.03 109.39,679.79 109.46,680.67 109.52,680.69 109.58,681.21 109.64,681.47 109.71,682.04 109.77,683.25 109.83,683.61 109.89,683.53 109.93,684.06 109.97,684.74 110.00,685.63 110.04,685.53 110.08,686.38 110.11,686.18 110.15,686.99 110.18,688.08 110.22,688.75 110.25,688.53 110.29,689.16 110.32,690.21 110.36,690.29 110.40,690.74 110.43,691.61 110.47,692.00 110.50,692.82 110.54,693.21 110.57,693.22 110.61,693.88 110.65,694.40 110.68,694.45 110.72,695.08 110.75,696.26 110.79,695.86 110.81,697.27 110.83,697.52 110.85,697.87 110.87,698.61 110.88,699.09 110.90,699.85 110.92,699.78 110.94,700.34 110.95,700.83 110.97,702.08 110.99,702.25 111.01,702.10 111.02,702.80 111.04,703.17 111.06,703.93 111.08,704.50 111.10,705.73 111.11,704.78 111.13,706.28 111.15,706.58 111.17,706.68 111.18,707.37 111.20,707.75 111.22,708.44 111.24,709.28 111.25,708.89 111.27,710.38 111.29,710.29 111.31,711.45 111.33,711.57 111.34,712.36 111.36,712.62 111.38,713.31 111.40,713.44 111.41,713.63 111.43,714.66 111.45,715.17 111.47,716.16 111.49,715.22 111.50,716.36 111.52,717.30 111.54,716.99 111.56,717.85 111.57,719.17 111.59,719.42 111.61,719.12 111.63,720.43 111.64,720.84 111.66,721.20 111.68,721.56 111.70,722.01 111.72,722.12 111.75,722.75 111.77,723.68 111.80,723.98 111.83,725.07 111.85,724.81 111.88,724.58 111.90,725.81 111.93,726.52 111.95,727.06 111.98,727.45 112.00,727.64 112.03,728.95 112.06,728.69 112.08,729.67 112.11,729.82 112.13,730.00 112.16,731.42 112.18,730.54 112.21,731.62 112.24,732.57 112.26,732.80 112.29,733.69 112.31,733.89 112.34,734.26 112.36,735.68 112.39,735.35 112.42,735.87 112.44,736.04 112.47,736.66 112.49,737.65 112.52,738.12 112.54,738.42 112.57,738.68 112.60,739.66 112.62,739.32 112.65,740.30 112.67,740.83 112.70,741.12 112.72,741.97 112.75,742.19 112.78,742.64 112.80,744.05 112.83,744.18 112.85,744.84 112.88,744.94 112.90,745.76 112.93,746.19 112.96,746.84 112.98,747.75 113.02,747.34 113.11,748.00 113.20,748.38 113.29,747.66 113.38,748.90 113.47,749.89 113.56,750.59 113.65,750.66 113.74,751.76 113.83,752.30 113.92,752.20 114.01,753.33 114.10,753.94 114.19,753.98 114.28,753.97 114.37,755.32 114.46,755.24 114.55,755.66 114.64,756.32 114.73,756.59 114.82,757.64 114.91,758.03 115.00,758.68 115.09,758.95 115.18,758.96 115.27,759.67 115.51,760.45 115.84,760.38 116.17,761.93 116.49,761.20 116.82,761.46 117.15,762.44 117.47,762.68 117.80,762.79" fill="none" stroke="#000" stroke-width="2.4" stroke-linejoin="round" stroke-linecap="round" />
<polyline points="117.50,764.33 117.80,761.53 118.10,763.75 118.40,761.73 118.70,764.12 119.00,761.94 119.30,763.78 119.60,762.14 119.90,763.52 120.20,762.37 120.50,763.69 120.80,762.47 121.10,763.87 121.40,762.82 121.70,764.06 122.00,764.97 122.30,764.15 122.60,762.70 122.90,764.52 123.20,762.07 123.50,765.36 123.80,762.12 124.10,764.99 124.40,761.39 124.70,764.80 125.00,762.18 125.30,764.54 125.60,761.82 125.90,765.19 126.20,762.82 126.50,764.73 126.80,762.33 127.10,767.03 127.40,761.62 127.70,764.58 128.00,761.76 128.30,765.04 128.60,761.76 128.90,764.31 129.20,761.90 129.50,764.25 129.80,762.92 130.10,765.04 130.40,762.25 130.70,764.58 131.00,762.88 131.30,764.69 131.60,762.18 131.90,765.01 132.20,762.23 132.50,764.94 132.80,762.22 133.10,765.28 133.40,762.57 133.70,765.25 134.00,761.82 134.30,765.01 134.60,761.89 134.90,764.96 135.20,761.51 135.50,766.01 135.80,762.74 136.10,765.76 136.40,762.07 136.70,765.66 137.00,762.74 137.30,764.84 137.60,762.73 137.90,765.40 138.20,763.16 138.50,765.67 138.80,762.41 139.10,765.90 139.40,762.33 139.70,766.54 140.00,763.19 140.30,766.44 140.60,762.48 140.90,766.27 141.20,762.71 141.50,766.93 141.80,762.48 142.10,766.39 142.40,763.32 142.70,767.33 143.00,762.33 143.30,767.22 143.60,763.13 143.90,765.82 144.20,763.07 144.50,766.64 144.80,763.17 145.10,766.80 145.40,763.36 145.70,766.69 146.00,763.92 146.30,765.96 146.60,763.81 146.90,766.28 147.20,763.76 147.50,766.68 147.80,763.64 148.10,766.56 148.40,763.72 148.70,765.98 149.00,763.32 149.30,766.60 149.60,764.05 149.90,765.58 150.20,764.28 150.50,766.25 150.80,763.90 151.10,766.08 151.40,764.14 151.70,766.23 152.00,764.26 152.30,767.86 152.60,763.55 152.90,765.68 153.20,763.87 153.50,765.44 153.80,763.61 154.10,765.74 154.40,763.72 154.70,765.71 155.00,763.88 155.30,765.67 155.60,763.85 155.90,765.82 156.20,763.88 156.50,765.31 156.80,763.39 157.10,765.97 157.40,764.09 157.70,765.61 158.00,763.94 158.30,766.67 158.60,764.03 158.90,766.64 159.20,763.62 159.50,765.99 159.80,764.04 160.10,766.76 160.40,764.25 160.70,766.73 161.00,764.19 161.30,766.99 161.60,764.81 161.90,766.75 162.20,764.41 162.50,767.23 162.80,764.75 163.10,766.61 163.40,763.46 163.70,767.20 164.00,764.64 164.30,768.05 164.60,763.47 164.90,767.87 165.20,764.14 165.50,768.65 165.80,763.15 166.10,767.21 166.40,764.55 166.70,767.73 167.00,763.66 167.30,766.39 167.60,764.39 167.90,766.44 168.20,763.56 168.50,766.55 168.80,763.87 169.10,766.06 169.40,763.32 169.70,766.28 170.00,763.85 170.30,766.83 170.60,764.24 170.90,767.64 171.20,763.98 171.50,766.56 171.80,763.11 172.10,766.56 172.40,764.29 172.70,766.77 173.00,764.33 173.30,767.57 173.60,764.16 173.90,767.08 174.20,764.25 174.50,766.71 174.80,764.28 175.10,766.52 175.40,764.69 175.70,767.45 176.00,764.37 176.30,767.34 176.60,763.16 176.90,766.96 177.20,763.52 177.50,766.84 177.80,762.56 178.10,767.32 178.40,762.40 178.70,766.51 179.00,763.23 179.30,767.41 179.60,762.76 179.90,766.26 180.20,764.36 180.50,766.27 180.80,763.57 181.10,767.50 181.40,764.51 181.70,767.32 182.00,763.30 182.30,766.75 182.60,764.56 182.90,766.83 183.20,764.18 183.50,767.45 183.80,763.98 184.10,766.68 184.40,763.44 184.70,766.75 185.00,763.49 185.30,766.76 185.60,764.34 185.90,767.25 186.20,763.76 186.50,767.39 186.80,763.88 187.10,766.15 187.40,763.96 187.70,767.35 188.00,764.07 188.30,767.04 188.60,764.05 188.90,766.58 189.20,763.84 189.50,767.79 189.80,762.86 190.10,767.41 190.40,763.39 190.70,767.26 191.00,769.29 191.30,767.01 191.60,763.87 191.90,766.36 192.20,763.94 192.50,766.49 192.80,764.34 193.10,766.00 193.40,764.37 193.70,765.70 194.00,764.09 194.30,766.46 194.60,763.71 194.90,766.28 195.20,764.06 195.50,766.07 195.80,763.79 196.10,768.61 196.40,763.83 196.70,766.70 197.00,763.72 197.30,766.92 197.60,764.88 197.90,767.31 198.20,764.13 198.50,768.10 198.80,764.76 199.10,767.40 199.40,765.01 199.70,767.73 200.00,764.68 200.30,767.23 200.60,764.87 200.90,766.88 201.20,763.55 201.50,766.64 201.80,765.19 202.10,766.73 202.40,765.12 202.70,766.69 203.00,765.03 203.30,766.86 203.60,765.62 203.90,766.56 204.20,765.19 204.50,766.70 204.80,765.27 205.10,766.93 205.40,765.26 205.70,766.74 206.00,764.96 206.30,766.89 206.60,764.81 206.90,767.28 207.20,763.66 207.50,768.07 207.80,763.72 208.10,766.87 208.40,763.88 208.70,767.75 209.00,763.32 209.30,767.50 209.60,763.31 209.90,768.80 210.20,764.36 210.50,767.91 210.80,764.43 211.10,767.80 211.40,763.98 211.70,767.74 212.00,764.50 212.30,767.30 212.60,764.68 212.90,767.08 213.20,765.36 213.50,767.57 213.80,764.62 214.10,767.71 214.40,765.18 214.70,767.77 215.00,764.44 215.30,767.89 215.60,764.98 215.90,766.91 216.20,765.48 216.50,767.55 216.80,765.64 217.10,767.19 217.40,764.89 217.70,766.72 218.00,764.99 218.30,766.84 218.60,765.43 218.90,766.61 219.20,764.73 219.50,767.35 219.80,764.64 220.10,766.88 220.40,764.67 220.70,767.23 221.00,764.18 221.30,767.62 221.60,764.07 221.90,766.76 222.20,763.95 222.50,767.14 222.80,764.38 223.10,767.12 223.40,764.14 223.70,767.46 224.00,764.47 224.30,766.74 224.60,764.57 224.90,766.76 225.20,765.25 225.50,766.38 225.80,764.67 226.10,766.45 226.40,765.17 226.70,766.36 227.00,765.05 227.30,766.48 227.60,765.09 227.90,766.28 228.20,765.07 228.50,766.42 228.80,765.53 229.10,766.28 229.40,764.80 229.70,767.36 230.00,765.07 230.30,767.26 230.60,764.92 230.90,768.43 231.20,764.62 231.50,762.25 231.80,764.79 232.10,768.65 232.40,764.95 232.70,767.85 233.00,765.23 233.30,767.64 233.60,765.11 233.90,767.82 234.20,765.29 234.50,767.48 234.80,765.05 235.10,767.88 235.40,765.58 235.70,768.42 236.00,765.72 236.30,768.08 236.60,764.55 236.90,768.13 237.20,763.97 237.50,768.89 237.80,764.07 238.10,768.23 238.40,764.18 238.70,769.45 239.00,763.90 239.30,769.34 239.60,765.28 239.90,769.07 240.20,765.22 240.50,767.98 240.80,765.15 241.10,768.82 241.40,764.49 241.70,767.89 242.00,765.56 242.30,768.70 242.60,764.59 242.90,768.02 243.20,765.06 243.50,769.42 243.80,765.19 244.10,767.82 244.40,764.04 244.70,768.29 245.00,764.33 245.30,768.57 245.60,763.96 245.90,767.29 246.20,763.80 246.50,767.75 246.80,763.92 247.10,767.74 247.40,764.21 247.70,767.75" fill="none" stroke="#000" stroke-width="1.3" stroke-linejoin="round" stroke-linecap="round" />
<line x1="120.70" y1="762.50" x2="120.70" y2="747.50" stroke="#111" stroke-width="1.3"/>
<polyline points="247.50,764.69 247.69,764.35 247.89,764.21 248.08,763.04 248.27,762.57 248.47,762.62 248.66,762.30 248.85,761.62 249.05,760.62 249.24,760.85 249.43,759.98 249.63,760.11 249.81,759.42 249.87,759.03 249.93,758.65 249.99,757.80 250.05,757.71 250.11,757.33 250.18,756.59 250.24,756.37 250.30,755.29 250.36,755.25 250.42,754.56 250.48,753.69 250.55,753.46 250.61,752.83 250.67,752.33 250.73,752.02 250.79,751.81 250.85,750.91 250.91,750.54 250.98,749.57 251.04,749.54 251.10,749.36 251.16,748.76 251.22,748.16 251.28,747.37 251.32,746.73 251.34,746.50 251.37,745.63 251.40,745.16 251.42,745.30 251.45,744.25 251.47,744.56 251.50,743.10 251.52,743.15 251.55,742.17 251.57,742.07 251.60,741.21 251.63,741.03 251.65,740.48 251.68,739.89 251.70,739.67 251.73,739.47 251.75,738.35 251.78,738.28 251.80,737.55 251.83,737.01 251.85,737.17 251.88,735.38 251.91,735.32 251.93,734.48 251.96,734.43 251.98,733.95 252.01,734.65 252.03,733.12 252.06,733.05 252.08,732.41 252.11,731.39 252.14,731.16 252.16,731.02 252.19,730.07 252.21,729.58 252.24,729.17 252.26,728.07 252.29,727.78 252.31,727.62 252.33,727.18 252.36,726.25 252.38,725.92 252.40,725.48 252.42,724.97 252.45,724.72 252.47,724.05 252.49,723.57 252.51,722.60 252.53,722.20 252.56,722.11 252.58,721.04 252.60,721.10 252.62,720.32 252.64,719.77 252.67,719.71 252.69,718.81 252.71,718.26 252.73,717.81 252.75,717.53 252.78,717.83 252.80,715.88 252.82,716.01 252.84,715.44 252.87,715.29 252.89,714.40 252.91,713.27 252.93,713.90 252.95,712.68 252.98,712.49 253.00,711.60 253.02,711.18 253.04,710.86 253.06,710.76 253.09,710.26 253.11,709.33 253.13,709.16 253.15,708.39 253.18,708.04 253.20,707.55 253.22,707.19 253.24,706.32 253.26,705.96 253.29,705.57 253.31,705.03 253.32,704.26 253.33,704.51 253.34,703.36 253.36,703.23 253.37,702.56 253.38,702.36 253.40,700.85 253.41,701.61 253.42,700.43 253.44,699.63 253.45,699.53 253.46,699.67 253.48,698.64 253.49,697.63 253.50,697.35 253.52,697.39 253.53,696.07 253.54,695.94 253.56,695.40 253.57,695.64 253.58,694.40 253.60,694.38 253.61,693.29 253.62,692.75 253.64,692.79 253.65,692.17 253.66,690.97 253.68,691.18 253.69,690.68 253.70,689.80 253.72,689.55 253.73,689.06 253.74,688.34 253.76,687.81 253.77,687.28 253.78,686.90 253.80,686.08 253.81,685.97 253.82,685.03 253.84,685.00 253.85,684.45 253.86,683.67 253.88,683.73 253.89,683.55 253.90,682.87 253.92,681.57 253.93,681.85 253.94,681.04 253.95,680.46 253.96,679.79 253.98,679.47 253.99,679.38 254.00,678.63 254.01,677.85 254.03,677.27 254.04,676.84 254.05,676.64 254.06,676.52 254.07,675.15 254.09,674.96 254.10,674.35 254.11,673.74 254.12,673.58 254.14,673.13 254.15,672.04 254.16,671.65 254.17,671.82 254.18,671.05 254.20,670.61 254.21,669.81 254.22,669.35 254.23,669.09 254.25,668.31 254.26,667.63 254.27,667.46 254.28,667.22 254.29,666.15 254.31,666.27 254.32,665.66 254.33,664.70 254.34,664.45 254.36,663.94 254.37,663.64 254.38,663.15 254.39,662.06 254.41,661.55 254.42,661.75 254.43,660.98 254.44,660.57 254.45,660.05 254.47,659.90 254.48,658.59 254.49,658.77 254.50,657.70 254.52,657.66 254.53,657.34 254.54,656.03 254.55,656.06 254.56,655.36 254.58,654.85 254.59,654.45 254.60,653.73 254.62,654.25 254.63,655.24 254.65,655.79 254.66,655.87 254.68,656.11 254.70,657.73 254.71,657.87 254.73,658.15 254.74,658.24 254.76,658.87 254.77,659.62 254.79,659.76 254.81,661.02 254.82,661.09 254.84,661.66 254.85,661.74 254.87,662.28 254.89,662.82 254.90,663.63 254.92,663.97 254.93,664.47 254.95,665.14 254.96,665.62 254.98,666.49 255.00,666.49 255.01,666.75 255.03,667.55 255.04,668.49 255.06,668.39 255.07,669.07 255.09,669.45 255.11,670.18 255.12,670.63 255.14,670.82 255.15,671.49 255.17,672.34 255.18,672.88 255.20,673.33 255.22,673.81 255.23,673.96 255.25,674.45 255.26,675.34 255.28,675.22 255.29,676.05 255.31,676.02 255.33,676.95 255.34,677.36 255.36,677.71 255.37,678.74 255.39,678.85 255.40,679.46 255.42,679.99 255.44,680.35 255.45,681.49 255.47,681.42 255.48,682.13 255.50,682.18 255.51,682.93 255.51,683.48 255.52,683.98 255.53,684.40 255.54,685.12 255.54,686.03 255.55,686.04 255.56,686.53 255.56,686.96 255.57,688.32 255.58,688.55 255.59,688.74 255.59,689.29 255.60,689.37 255.61,690.04 255.61,690.64 255.62,691.12 255.63,691.33 255.63,691.85 255.64,692.74 255.65,693.18 255.66,692.96 255.66,694.11 255.67,694.96 255.68,694.90 255.68,695.66 255.69,695.66 255.70,696.83 255.71,696.76 255.71,697.22 255.72,698.00 255.73,699.29 255.73,698.91 255.74,699.22 255.75,700.23 255.76,700.66 255.76,701.58 255.77,701.22 255.78,701.63 255.78,702.51 255.79,703.21 255.80,703.70 255.87,704.41 255.95,704.15 256.03,704.84 256.11,705.54 256.19,706.32 256.27,706.71 256.36,706.94 256.44,707.25 256.52,708.31 256.60,708.82 256.68,709.83 256.76,709.48 256.84,710.50 256.93,710.16 257.01,710.85 257.09,711.31 257.17,711.86 257.25,712.24 257.33,712.83 257.42,713.47 257.50,713.84 257.58,714.66 257.66,714.94 257.74,715.46 257.83,716.39 257.91,716.54 257.99,716.99 258.07,717.43 258.16,717.95 258.24,718.59 258.32,718.68 258.40,719.75 258.49,720.37 258.57,720.74 258.65,720.75 258.73,720.92 258.81,721.75 258.90,722.42 258.98,723.11 259.06,723.31 259.14,723.77 259.23,724.80 259.30,724.65 259.35,725.66 259.39,726.11 259.43,725.95 259.47,726.92 259.51,727.18 259.55,727.56 259.59,727.79 259.64,728.38 259.68,729.46 259.72,729.72 259.76,730.41 259.80,730.52 259.84,731.24 259.88,731.75 259.92,731.88 259.97,732.34 260.01,733.46 260.05,733.87 260.09,734.05 260.13,734.80 260.17,735.52 260.21,736.36 260.26,736.06 260.30,737.00 260.34,737.94 260.38,737.84 260.42,738.75 260.46,738.06 260.50,739.74 260.55,739.81 260.59,739.76 260.63,741.04 260.67,741.62 260.71,742.17 260.75,742.66 260.79,742.80 260.84,743.09 260.88,743.67 260.93,744.30 260.97,744.92 261.02,745.16 261.06,745.82 261.11,746.56 261.15,746.90 261.20,747.97 261.24,748.43 261.29,747.96 261.33,748.63 261.38,748.91 261.42,749.45 261.47,750.45 261.51,750.50 261.56,750.98 261.60,751.71 261.65,752.52 261.69,752.68 261.74,753.18 261.78,754.05 261.83,754.42 261.87,754.91 261.92,755.56 261.96,755.48 262.01,756.34 262.05,756.59 262.10,757.58 262.14,758.01 262.19,757.96 262.23,759.16 262.28,758.92 262.39,760.10 262.54,760.29 262.70,760.45 262.85,760.85 263.01,761.57 263.16,762.13 263.32,762.40 263.48,763.25 263.63,763.15 263.79,764.04 263.94,764.51 264.10,764.44 264.40,765.48 264.70,765.42 265.00,765.45" fill="none" stroke="#000" stroke-width="2.5" stroke-linejoin="round" stroke-linecap="round" />
<polyline points="264.50,767.84 264.80,766.52 265.10,767.77 265.40,766.35 265.70,768.26 266.00,766.64 266.30,768.51 266.60,766.37 266.90,768.35 267.20,769.47 267.50,765.00 267.80,765.81 268.10,767.66 268.40,766.25 268.70,767.82 269.00,766.02 269.30,767.79 269.60,765.96 269.90,768.37 270.20,765.78 270.50,767.82 270.80,766.36 271.10,768.07 271.40,766.48 271.70,768.40 272.00,766.31 272.30,767.95 272.60,766.34 272.90,768.04 273.20,766.30 273.50,768.17 273.80,766.05 274.10,767.80 274.40,766.42 274.70,768.11 275.00,766.44 275.30,768.01 275.60,766.45 275.90,767.71 276.20,765.87 276.50,767.33 276.80,766.15 277.10,768.06 277.40,765.91 277.70,767.53 278.00,766.00 278.30,769.47 278.60,766.23 278.90,768.04 279.20,766.48 279.50,767.96 279.80,766.58 280.10,767.60 280.40,766.47 280.70,767.69 281.00,766.94 281.30,767.49 281.60,766.75 281.90,767.90 282.20,766.79 282.50,767.96 282.80,766.43 283.10,767.71 283.40,766.75 283.70,768.46" fill="none" stroke="#000" stroke-width="1.3" stroke-linejoin="round" stroke-linecap="round" />
<polyline points="283.00,766.50 283.36,765.90 283.72,765.30 284.08,764.70 284.22,764.03 284.25,763.33 284.28,762.63 284.30,761.93 284.33,761.23 284.36,760.53 284.39,759.83 284.42,759.13 284.45,758.43 284.48,757.73 284.50,757.03 284.53,756.33 284.56,755.63 284.59,754.93 284.62,754.23 284.65,753.53 284.68,752.83 284.70,752.13 284.73,751.43 284.76,750.73 284.79,750.03 284.82,749.33 284.85,748.63 284.88,747.93 284.91,747.23 284.93,746.53 284.96,745.83 284.99,745.13 285.02,744.43 285.05,743.73 285.08,743.03 285.11,742.33 285.13,741.63 285.16,740.93 285.19,740.23 285.20,739.52 285.20,738.82 285.20,738.12 285.21,737.42 285.21,736.72 285.21,736.02 285.21,735.32 285.21,734.62 285.21,733.92 285.21,733.22 285.22,732.52 285.22,731.82 285.22,731.12 285.22,730.42 285.22,729.72 285.22,729.01 285.23,728.31 285.23,727.61 285.23,726.91 285.23,726.21 285.23,725.51 285.23,724.81 285.23,724.11 285.24,723.41 285.24,722.71 285.24,722.01 285.24,721.31 285.24,720.61 285.24,719.91 285.24,719.20 285.25,718.50 285.25,717.80 285.25,717.10 285.25,716.40 285.25,715.70 285.25,715.00 285.26,714.30 285.26,713.60 285.26,712.90 285.26,712.20 285.26,711.50 285.26,710.80 285.26,710.10 285.27,709.39 285.27,708.69 285.27,707.99 285.27,707.29 285.27,706.59 285.27,705.89 285.27,705.19 285.28,704.49 285.28,703.79 285.28,703.09 285.28,702.39 285.28,701.69 285.28,700.99 285.29,700.29 285.29,699.58 285.29,698.88 285.29,698.18 285.29,697.48 285.29,696.78 285.29,696.08 285.30,695.38 285.30,694.68 285.30,693.98 285.30,693.28 285.30,692.58 285.30,691.88 285.30,691.18 285.31,690.48 285.31,689.77 285.31,689.07 285.31,688.37 285.31,687.67 285.31,686.97 285.32,686.27 285.32,685.57 285.32,684.87 285.32,684.17 285.32,683.47 285.32,682.77 285.32,682.07 285.33,681.37 285.33,680.67 285.33,679.96 285.33,679.26 285.33,678.56 285.33,677.86 285.33,677.16 285.34,676.46 285.34,675.76 285.34,675.06 285.34,674.36 285.34,673.66 285.34,672.96 285.35,672.26 285.35,671.56 285.35,670.86 285.35,670.15 285.35,669.45 285.35,668.75 285.35,668.05 285.36,667.35 285.36,666.65 285.36,665.95 285.36,665.25 285.36,664.55 285.36,663.85 285.36,663.15 285.37,662.45 285.37,661.75 285.37,661.05 285.37,660.34 285.37,659.64 285.37,658.94 285.38,658.24 285.38,657.54 285.38,656.84 285.38,656.14 285.38,655.44 285.38,654.74 285.38,654.04 285.39,653.34 285.39,652.64 285.39,651.94 285.39,651.24 285.39,650.53 285.39,649.83 285.39,649.13 285.40,648.43 285.40,647.73 285.40,647.03 285.40,646.33 285.40,645.63 285.40,644.93 285.41,644.23 285.41,643.53 285.41,642.83 285.41,642.13 285.41,641.43 285.41,640.72 285.41,640.02 285.42,639.32 285.42,638.62 285.42,637.92 285.42,637.22 285.42,636.52 285.42,635.82 285.42,635.12 285.43,634.42 285.43,633.72 285.43,633.02 285.43,632.32 285.43,631.62 285.43,630.91 285.44,630.21 285.44,629.51 285.44,628.81 285.44,628.11 285.44,627.41 285.44,626.71 285.44,626.01 285.45,625.31 285.45,624.61 285.45,623.91 285.45,623.21 285.45,622.51 285.45,621.81 285.45,621.10 285.46,620.40 285.46,619.70 285.46,619.00 285.46,618.30 285.46,617.60 285.46,616.90 285.47,616.20 285.47,615.50 285.47,614.80 285.47,614.10 285.47,613.40 285.47,612.70 285.47,612.00 285.48,611.29 285.48,610.59 285.48,609.89 285.48,609.19 285.48,608.49 285.48,607.79 285.48,607.09 285.49,606.39 285.49,605.69 285.49,604.99 285.49,604.29 285.49,603.59 285.49,602.89 285.50,602.19 285.50,601.48 285.50,600.78 285.50,600.08 285.50,599.38 285.50,598.68 285.50,597.98 285.50,597.28 285.50,596.58 285.50,595.88 285.51,595.18 285.51,594.48 285.51,593.78 285.51,593.08 285.51,592.38 285.51,591.67 285.51,590.97 285.51,590.27 285.51,589.57 285.51,588.87 285.51,588.17 285.51,587.47 285.52,586.77 285.52,586.07 285.52,585.37 285.52,584.67 285.52,583.97 285.52,583.27 285.52,582.57 285.52,581.86 285.52,581.16 285.52,580.46 285.52,579.76 285.52,579.06 285.53,578.36 285.53,577.66 285.53,576.96 285.53,576.26 285.53,575.56 285.53,574.86 285.53,574.16 285.53,573.46 285.53,572.76 285.53,572.05 285.53,571.35 285.53,570.65 285.54,569.95 285.54,569.25 285.54,568.55 285.54,567.85 285.54,567.15 285.54,566.45 285.54,565.75 285.54,565.05 285.54,564.35 285.54,563.65 285.54,562.95 285.54,562.24 285.54,561.54 285.55,560.84 285.55,560.14 285.55,559.44 285.55,558.74 285.55,558.04 285.55,557.34 285.55,556.64 285.55,555.94 285.55,555.24 285.55,554.54 285.55,553.84 285.55,553.14 285.56,552.43 285.56,551.73 285.56,551.03 285.56,550.33 285.56,549.63 285.56,548.93 285.56,548.23 285.56,547.53 285.56,546.83 285.56,546.13 285.56,545.43 285.56,544.73 285.57,544.03 285.57,543.33 285.57,542.63 285.57,541.92 285.57,541.22 285.57,540.52 285.57,539.82 285.57,539.12 285.57,538.42 285.57,537.72 285.57,537.02 285.57,536.32 285.58,535.62 285.58,534.92 285.58,534.22 285.58,533.52 285.58,532.82 285.58,532.11 285.58,531.41 285.58,530.71 285.58,530.01 285.58,529.31 285.58,528.61 285.58,527.91 285.59,527.21 285.59,526.51 285.59,525.81 285.59,525.11 285.59,524.41 285.59,523.71 285.59,523.01 285.59,522.30 285.59,521.60 285.59,520.90 285.59,520.20 285.59,519.50 285.59,518.80 285.60,518.10 285.60,517.40 285.60,516.70 285.60,516.00 285.60,515.30 285.60,514.60 285.60,513.90 285.60,513.20 285.60,512.49 285.60,511.79 285.60,511.09 285.60,510.39 285.61,509.69 285.61,508.99 285.61,508.29 285.61,507.59 285.61,506.89 285.61,506.19 285.61,505.49 285.61,504.79 285.61,504.09 285.61,503.39 285.61,502.68 285.61,501.98 285.62,501.28 285.62,500.58 285.62,499.88 285.62,499.18 285.62,498.48 285.62,497.78 285.62,497.08 285.62,496.38 285.62,495.68 285.62,494.98 285.62,494.28 285.62,493.58 285.63,492.87 285.63,492.17 285.63,491.47 285.63,490.77 285.63,490.07 285.63,489.37 285.63,488.67 285.63,487.97 285.63,487.27 285.63,486.57 285.63,485.87 285.63,485.17 285.63,484.47 285.64,483.77 285.64,483.06 285.64,482.36 285.64,481.66 285.64,480.96 285.64,480.26 285.64,479.56 285.64,478.86 285.64,478.16 285.64,477.46 285.64,476.76 285.64,476.06 285.65,475.36 285.65,474.66 285.65,473.96 285.65,473.25 285.65,472.55 285.65,471.85 285.65,471.15 285.65,470.45 285.65,469.75 285.65,469.05 285.65,468.35 285.65,467.65 285.66,466.95 285.66,466.25 285.66,465.55 285.66,464.85 285.66,464.15 285.66,463.44 285.66,462.74 285.66,462.04 285.66,461.34 285.66,460.64 285.66,459.94 285.66,459.24 285.67,458.54 285.67,457.84 285.67,457.14 285.67,456.44 285.67,455.74 285.67,455.04 285.67,454.34 285.67,453.63 285.67,452.93 285.67,452.23 285.67,451.53 285.67,450.83 285.68,450.13 285.68,449.43 285.68,448.73 285.68,448.03 285.68,447.33 285.68,446.63 285.68,445.93 285.68,445.23 285.68,444.53 285.68,443.82 285.68,443.12 285.68,442.42 285.68,441.72 285.69,441.02 285.69,440.32 285.69,439.62 285.69,438.92 285.69,438.22 285.69,437.52 285.69,436.82 285.69,436.12 285.69,435.42 285.69,434.72 285.69,434.01 285.69,433.31 285.70,432.61 285.70,431.91 285.70,431.21 285.70,430.51 285.70,429.81 285.70,429.11 286.09,428.80 286.60,428.99 286.60,429.69 286.60,430.39 286.60,431.09 286.60,431.79 286.60,432.50 286.61,433.20 286.61,433.90 286.61,434.60 286.61,435.30 286.61,436.00 286.61,436.70 286.61,437.40 286.61,438.10 286.61,438.80 286.61,439.50 286.61,440.20 286.61,440.90 286.61,441.60 286.62,442.31 286.62,443.01 286.62,443.71 286.62,444.41 286.62,445.11 286.62,445.81 286.62,446.51 286.62,447.21 286.62,447.91 286.62,448.61 286.62,449.31 286.62,450.01 286.63,450.71 286.63,451.41 286.63,452.12 286.63,452.82 286.63,453.52 286.63,454.22 286.63,454.92 286.63,455.62 286.63,456.32 286.63,457.02 286.63,457.72 286.63,458.42 286.64,459.12 286.64,459.82 286.64,460.52 286.64,461.22 286.64,461.93 286.64,462.63 286.64,463.33 286.64,464.03 286.64,464.73 286.64,465.43 286.64,466.13 286.64,466.83 286.65,467.53 286.65,468.23 286.65,468.93 286.65,469.63 286.65,470.33 286.65,471.03 286.65,471.74 286.65,472.44 286.65,473.14 286.65,473.84 286.65,474.54 286.65,475.24 286.66,475.94 286.66,476.64 286.66,477.34 286.66,478.04 286.66,478.74 286.66,479.44 286.66,480.14 286.66,480.84 286.66,481.55 286.66,482.25 286.66,482.95 286.66,483.65 286.66,484.35 286.67,485.05 286.67,485.75 286.67,486.45 286.67,487.15 286.67,487.85 286.67,488.55 286.67,489.25 286.67,489.95 286.67,490.65 286.67,491.36 286.67,492.06 286.67,492.76 286.68,493.46 286.68,494.16 286.68,494.86 286.68,495.56 286.68,496.26 286.68,496.96 286.68,497.66 286.68,498.36 286.68,499.06 286.68,499.76 286.68,500.46 286.68,501.17 286.69,501.87 286.69,502.57 286.69,503.27 286.69,503.97 286.69,504.67 286.69,505.37 286.69,506.07 286.69,506.77 286.69,507.47 286.69,508.17 286.69,508.87 286.69,509.57 286.70,510.27 286.70,510.98 286.70,511.68 286.70,512.38 286.70,513.08 286.70,513.78 286.70,514.48 286.70,515.18 286.70,515.88 286.70,516.58 286.70,517.28 286.70,517.98 286.71,518.68 286.71,519.38 286.71,520.08 286.71,520.79 286.71,521.49 286.71,522.19 286.71,522.89 286.71,523.59 286.71,524.29 286.71,524.99 286.71,525.69 286.71,526.39 286.71,527.09 286.72,527.79 286.72,528.49 286.72,529.19 286.72,529.89 286.72,530.60 286.72,531.30 286.72,532.00 286.72,532.70 286.72,533.40 286.72,534.10 286.72,534.80 286.72,535.50 286.73,536.20 286.73,536.90 286.73,537.60 286.73,538.30 286.73,539.00 286.73,539.70 286.73,540.41 286.73,541.11 286.73,541.81 286.73,542.51 286.73,543.21 286.73,543.91 286.74,544.61 286.74,545.31 286.74,546.01 286.74,546.71 286.74,547.41 286.74,548.11 286.74,548.81 286.74,549.51 286.74,550.22 286.74,550.92 286.74,551.62 286.74,552.32 286.75,553.02 286.75,553.72 286.75,554.42 286.75,555.12 286.75,555.82 286.75,556.52 286.75,557.22 286.75,557.92 286.75,558.62 286.75,559.32 286.75,560.03 286.75,560.73 286.75,561.43 286.76,562.13 286.76,562.83 286.76,563.53 286.76,564.23 286.76,564.93 286.76,565.63 286.76,566.33 286.76,567.03 286.76,567.73 286.76,568.43 286.76,569.13 286.76,569.84 286.77,570.54 286.77,571.24 286.77,571.94 286.77,572.64 286.77,573.34 286.77,574.04 286.77,574.74 286.77,575.44 286.77,576.14 286.77,576.84 286.77,577.54 286.77,578.24 286.78,578.94 286.78,579.64 286.78,580.35 286.78,581.05 286.78,581.75 286.78,582.45 286.78,583.15 286.78,583.85 286.78,584.55 286.78,585.25 286.78,585.95 286.78,586.65 286.79,587.35 286.79,588.05 286.79,588.75 286.79,589.45 286.79,590.16 286.79,590.86 286.79,591.56 286.79,592.26 286.79,592.96 286.79,593.66 286.79,594.36 286.79,595.06 286.80,595.76 286.80,596.46 286.80,597.16 286.80,597.86 286.80,598.56 286.80,599.26 286.80,599.97 286.80,600.67 286.80,601.37 286.80,602.07 286.80,602.77 286.80,603.47 286.81,604.17 286.81,604.87 286.81,605.57 286.81,606.27 286.81,606.97 286.81,607.67 286.81,608.37 286.81,609.07 286.81,609.78 286.81,610.48 286.82,611.18 286.82,611.88 286.82,612.58 286.82,613.28 286.82,613.98 286.82,614.68 286.82,615.38 286.82,616.08 286.82,616.78 286.82,617.48 286.83,618.18 286.83,618.88 286.83,619.59 286.83,620.29 286.83,620.99 286.83,621.69 286.83,622.39 286.83,623.09 286.83,623.79 286.83,624.49 286.84,625.19 286.84,625.89 286.84,626.59 286.84,627.29 286.84,627.99 286.84,628.69 286.84,629.40 286.84,630.10 286.84,630.80 286.84,631.50 286.85,632.20 286.85,632.90 286.85,633.60 286.85,634.30 286.85,635.00 286.85,635.70 286.85,636.40 286.85,637.10 286.85,637.80 286.86,638.50 286.86,639.21 286.86,639.91 286.86,640.61 286.86,641.31 286.86,642.01 286.86,642.71 286.86,643.41 286.86,644.11 286.86,644.81 286.87,645.51 286.87,646.21 286.87,646.91 286.87,647.61 286.87,648.31 286.87,649.02 286.87,649.72 286.87,650.42 286.87,651.12 286.87,651.82 286.88,652.52 286.88,653.22 286.88,653.92 286.88,654.62 286.88,655.32 286.88,656.02 286.88,656.72 286.88,657.42 286.88,658.12 286.88,658.83 286.89,659.53 286.89,660.23 286.89,660.93 286.89,661.63 286.89,662.33 286.89,663.03 286.89,663.73 286.89,664.43 286.89,665.13 286.89,665.83 286.90,666.53 286.90,667.23 286.90,667.93 286.90,668.64 286.90,669.34 286.90,670.04 286.90,670.74 286.90,671.44 286.90,672.14 286.90,672.84 286.91,673.54 286.91,674.24 286.91,674.94 286.91,675.64 286.91,676.34 286.91,677.04 286.91,677.74 286.91,678.45 286.91,679.15 286.91,679.85 286.92,680.55 286.92,681.25 286.92,681.95 286.92,682.65 286.92,683.35 286.92,684.05 286.92,684.75 286.92,685.45 286.92,686.15 286.92,686.85 286.93,687.55 286.93,688.26 286.93,688.96 286.93,689.66 286.93,690.36 286.93,691.06 286.93,691.76 286.93,692.46 286.93,693.16 286.93,693.86 286.94,694.56 286.94,695.26 286.94,695.96 286.94,696.66 286.94,697.36 286.94,698.07 286.94,698.77 286.94,699.47 286.94,700.17 286.94,700.87 286.95,701.57 286.95,702.27 286.95,702.97 286.95,703.67 286.95,704.37 286.95,705.07 286.95,705.77 286.95,706.47 286.95,707.17 286.95,707.88 286.96,708.58 286.96,709.28 286.96,709.98 286.96,710.68 286.96,711.38 286.96,712.08 286.96,712.78 286.96,713.48 286.96,714.18 286.96,714.88 286.97,715.58 286.97,716.28 286.97,716.98 286.97,717.69 286.97,718.39 286.97,719.09 286.97,719.79 286.97,720.49 286.97,721.19 286.97,721.89 286.98,722.59 286.98,723.29 286.98,723.99 286.98,724.69 286.98,725.39 286.98,726.09 286.98,726.79 286.98,727.50 286.98,728.20 286.98,728.90 286.99,729.60 286.99,730.30 286.99,731.00 286.99,731.70 286.99,732.40 286.99,733.10 286.99,733.80 286.99,734.50 286.99,735.20 286.99,735.90 287.00,736.60 287.00,737.31 287.00,738.01 287.00,738.71 287.00,739.41 287.00,740.11 287.03,740.81 287.06,741.51 287.09,742.21 287.12,742.91 287.15,743.61 287.18,744.31 287.20,745.01 287.23,745.71 287.26,746.41 287.29,747.11 287.32,747.81 287.35,748.51 287.38,749.21 287.40,749.91 287.43,750.61 287.46,751.31 287.49,752.01 287.52,752.71 287.55,753.41 287.58,754.11 287.60,754.81 287.63,755.51 287.66,756.21 287.69,756.91 287.72,757.61 287.75,758.31 287.78,759.01 287.80,759.71 287.83,760.41 287.86,761.11 287.89,761.81 287.92,762.51 287.95,763.21 287.98,763.91 288.06,764.60 288.42,765.20 288.78,765.80 289.14,766.40 289.50,767.00" fill="none" stroke="#000" stroke-width="1.9" stroke-linejoin="round" stroke-linecap="round" />
<polyline points="288.50,767.69 288.80,766.31 289.10,768.13 289.40,766.22 289.70,768.25 290.00,765.66 290.30,768.22 290.60,765.41 290.90,767.95 291.20,766.17 291.50,768.08 291.80,765.69 292.10,767.84 292.40,765.37 292.70,767.79 293.00,765.94 293.30,767.50 293.60,769.29 293.90,768.45 294.20,765.71 294.50,768.24 294.80,765.97 295.10,767.66 295.40,765.69 295.70,768.02 296.00,765.98 296.30,767.44 296.60,765.89 296.90,767.19 297.20,766.29 297.50,767.04 297.80,766.18 298.10,767.26 298.40,766.27 298.70,767.87 299.00,766.51 299.30,768.12 299.60,766.07 299.90,768.08 300.20,766.61 300.50,767.91 300.80,766.52 301.10,767.82 301.40,766.11 301.70,768.15 302.00,765.71 302.30,768.43 302.60,766.29 302.90,767.96 303.20,769.84 303.50,767.58 303.80,765.94 304.10,768.21 304.40,765.25 304.70,768.30 305.00,766.16 305.30,767.85 305.60,765.72 305.90,768.41 306.20,765.02 306.50,768.61 306.80,766.16 307.10,768.56 307.40,766.17 307.70,767.68 308.00,766.16 308.30,768.13 308.60,766.02 308.90,767.49 309.20,766.81 309.50,767.53 309.80,766.81 310.10,767.75 310.40,766.91 310.70,767.74 311.00,766.49 311.30,767.79 311.60,766.40 311.90,767.99 312.20,766.73 312.50,768.40 312.80,766.34 313.10,768.47 313.40,766.74 313.70,768.66 314.00,766.27 314.30,767.92 314.60,766.35 314.90,768.20 315.20,766.73 315.50,768.36 315.80,766.78 316.10,767.76 316.40,766.23 316.70,765.09 317.00,766.74 317.30,768.13 317.60,766.52 317.90,768.20 318.20,766.46 318.50,768.11 318.80,766.41 319.10,768.50 319.40,766.55 319.70,768.32 320.00,766.45 320.30,767.91 320.60,766.60 320.90,768.01 321.20,766.35 321.50,767.98 321.80,766.29 322.10,769.08 322.40,765.96 322.70,768.06 323.00,765.88 323.30,769.01 323.60,765.69 323.90,768.71 324.20,765.84 324.50,768.12 324.80,765.46 325.10,768.02 325.40,765.55 325.70,767.93 326.00,766.07 326.30,767.97 326.60,766.15 326.90,767.85 327.20,766.27 327.50,768.21 327.80,766.02 328.10,768.21 328.40,766.00 328.70,767.75 329.00,766.62 329.30,769.91 329.60,766.33 329.90,768.13 330.20,766.32 330.50,768.49 330.80,769.11 331.10,767.92 331.40,766.62 331.70,768.08 332.00,766.74 332.30,768.22 332.60,766.85 332.90,768.16 333.20,766.05 333.50,768.04 333.80,766.45 334.10,768.43 334.40,766.31 334.70,768.94 335.00,766.77 335.30,768.27 335.60,766.54 335.90,768.83 336.20,766.23 336.50,768.33 336.80,766.40 337.10,768.31 337.40,766.47 337.70,767.85 338.00,766.24 338.30,768.35 338.60,766.22 338.90,767.74 339.20,766.64 339.50,768.06 339.80,766.72 340.10,767.92 340.40,766.53 340.70,767.59 341.00,766.35 341.30,767.35 341.60,766.62 341.90,767.82 342.20,766.00 342.50,767.60 342.80,765.83 343.10,768.36 343.40,765.64 343.70,768.50 344.00,765.77 344.30,768.80 344.60,766.29 344.90,767.87 345.20,766.55 345.50,768.27 345.80,766.07 346.10,767.91 346.40,766.51 346.70,768.11 347.00,766.74 347.30,768.10 347.60,766.66 347.90,767.66 348.20,766.39 348.50,767.78 348.80,766.40 349.10,767.78 349.40,766.92 349.70,767.99 350.00,766.85 350.30,768.06 350.60,766.51 350.90,768.14 351.20,766.51 351.50,767.83 351.80,766.34 352.10,768.02 352.40,766.30 352.70,768.05 353.00,765.89 353.30,769.01 353.60,766.34 353.90,768.43 354.20,765.74 354.50,768.52 354.80,765.47 355.10,768.83 355.40,765.72 355.70,767.97 356.00,766.28 356.30,764.42 356.60,765.92 356.90,768.27 357.20,766.06 357.50,768.18 357.80,766.46 358.10,768.38 358.40,765.72 358.70,767.78 359.00,766.14 359.30,768.23 359.60,766.52 359.90,767.71 360.20,766.10 360.50,768.07 360.80,766.47 361.10,768.04 361.40,765.84 361.70,768.15 362.00,766.68 362.30,768.20 362.60,766.78 362.90,767.99 363.20,766.28 363.50,768.70 363.80,766.62 364.10,768.49 364.40,766.02 364.70,769.05 365.00,766.30 365.30,768.67 365.60,765.77 365.90,768.37 366.20,765.95 366.50,768.77 366.80,765.79 367.10,768.69 367.40,765.67 367.70,768.40 368.00,765.69 368.30,767.75 368.60,766.33 368.90,767.82 369.20,766.01 369.50,768.21 369.80,766.49 370.10,768.08 370.40,765.92 370.70,768.28 371.00,766.15 371.30,768.23 371.60,766.15 371.90,768.01 372.20,766.69 372.50,767.98 372.80,766.89 373.10,768.12 373.40,766.66 373.70,768.23 374.00,766.59 374.30,767.74 374.60,766.48 374.90,768.27 375.20,766.54 375.50,768.28 375.80,766.75 376.10,768.02 376.40,766.58 376.70,769.03 377.00,766.58 377.30,767.73 377.60,766.68 377.90,768.03 378.20,766.84 378.50,768.32 378.80,766.18 379.10,768.54 379.40,766.03 379.70,768.11 380.00,766.41 380.30,768.40 380.60,766.04 380.90,768.54 381.20,766.47 381.50,768.11 381.80,766.85 382.10,767.98 382.40,766.91 382.70,767.89 383.00,767.25 383.30,768.04 383.60,767.07 383.90,768.08 384.20,766.93 384.50,768.49 384.80,766.80 385.10,768.54 385.40,766.96 385.70,768.18 386.00,766.73 386.30,768.19 386.60,766.81 386.90,768.26 387.20,766.50 387.50,767.98 387.80,766.75 388.10,768.02 388.40,765.83 388.70,768.01 389.00,765.78 389.30,768.71 389.60,766.65 389.90,768.34 390.20,766.31 390.50,768.38 390.80,766.28 391.10,768.09 391.40,766.58 391.70,768.17 392.00,766.49 392.30,768.30 392.60,769.19 392.90,768.06 393.20,766.61 393.50,768.56 393.80,766.17 394.10,768.46 394.40,766.45 394.70,767.71 395.00,766.64 395.30,767.90 395.60,766.07 395.90,768.20 396.20,766.00 396.50,767.55 396.80,766.22 397.10,767.81 397.40,766.33 397.70,767.57 398.00,766.46 398.30,767.48 398.60,766.22 398.90,767.67 399.20,766.23 399.50,767.67 399.80,765.47 400.10,767.99 400.40,766.60 400.70,767.49" fill="none" stroke="#000" stroke-width="1.3" stroke-linejoin="round" stroke-linecap="round" />
<polyline points="400.40,767.25 400.80,767.37 401.20,766.26 401.60,766.89 402.00,766.10 402.40,766.20 402.80,765.14 403.20,765.31 403.60,765.31 404.00,764.62 404.28,763.65 404.55,763.63 404.83,763.52 405.10,762.42 405.38,761.99 405.65,762.16 405.93,761.32 406.20,761.48 406.48,760.41 406.75,759.76 407.01,759.70 407.26,760.06 407.52,758.81 407.77,758.68 408.03,758.33 408.28,757.48 408.54,757.77 408.79,757.02 409.05,756.68 409.30,755.51 409.56,755.05 409.81,754.27 409.98,754.70 410.10,754.20 410.22,754.05 410.34,753.83 410.47,752.74 410.59,752.25 410.71,752.01 410.83,751.91 410.95,750.60 411.07,750.62 411.19,749.83 411.31,749.31 411.44,749.23 411.56,748.18 411.68,747.60 411.74,747.71 411.79,746.97 411.84,746.39 411.90,745.94 411.95,745.66 412.00,744.86 412.05,744.76 412.10,744.14 412.15,744.01 412.20,743.44 412.25,742.80 412.31,741.93 412.36,741.54 412.41,740.80 412.46,741.51 412.51,739.93 412.56,739.71 412.61,739.49 412.66,738.04 412.72,737.73 412.77,737.38 412.82,736.67 412.87,736.08 412.92,735.85 412.97,735.98 413.02,735.28 413.07,734.55 413.12,734.05 413.17,732.96 413.21,733.28 413.26,732.69 413.30,731.66 413.35,731.62 413.39,730.98 413.44,730.37 413.48,729.70 413.53,729.31 413.57,728.72 413.62,728.71 413.66,728.18 413.71,727.67 413.75,726.99 413.80,726.42 413.84,726.78 413.89,724.91 413.93,725.48 413.98,724.69 414.02,724.09 414.07,723.39 414.11,722.99 414.16,722.16 414.20,721.59 414.25,721.54 414.29,720.50 414.34,720.87 414.38,720.47 414.45,718.38 414.53,718.55 414.61,718.69 414.69,718.18 414.77,717.65 414.86,717.26 414.94,716.88 415.02,716.43 415.10,716.26 415.18,715.15 415.26,714.95 415.34,713.59 415.42,713.61 415.51,712.74 415.59,713.16 415.70,713.00 415.81,711.89 415.93,710.76 416.05,710.69 416.17,710.25 416.28,709.82 416.40,709.65 416.52,709.11 416.63,707.37 416.75,708.28 416.87,707.15 417.00,707.35 417.14,708.52 417.27,708.42 417.41,708.51 417.54,709.01 417.68,709.98 417.81,710.75 417.95,711.44 418.08,711.34 418.22,711.72 418.35,712.93 418.49,712.69 418.63,713.84 418.74,713.90 418.83,714.39 418.91,714.72 419.00,715.40 419.09,715.62 419.18,716.04 419.27,716.72 419.35,717.04 419.44,717.86 419.53,718.28 419.62,718.65 419.70,719.16 419.79,719.65 419.88,720.83 419.97,720.71 420.05,721.00 420.14,721.59 420.23,722.42 420.31,722.61 420.37,723.13 420.43,723.59 420.49,724.23 420.54,724.81 420.60,725.32 420.66,725.09 420.72,725.79 420.78,725.74 420.84,727.44 420.90,728.04 420.95,728.61 421.01,728.70 421.07,729.55 421.13,729.63 421.19,730.10 421.25,730.10 421.30,730.86 421.36,731.42 421.42,732.45 421.48,733.20 421.54,732.96 421.60,733.75 421.66,734.21 421.71,734.34 421.77,734.51 421.83,735.34 421.89,735.60 421.95,736.49 422.01,737.05 422.07,737.53 422.12,738.03 422.18,738.76 422.23,738.76 422.29,739.89 422.34,739.50 422.40,740.60 422.45,741.21 422.51,741.30 422.56,741.51 422.62,742.79 422.67,742.83 422.73,743.84 422.78,744.33 422.84,744.56 422.89,745.05 422.95,745.90 423.00,746.18 423.06,746.22 423.11,747.10 423.17,747.74 423.22,748.11 423.28,748.60 423.33,748.98 423.39,749.49 423.44,749.70 423.50,750.03 423.55,751.42 423.61,751.30 423.66,752.10 423.72,751.99 423.77,753.07 423.82,753.22 423.88,755.04 423.98,754.14 424.10,754.65 424.23,755.80 424.35,756.35 424.47,755.70 424.60,757.01 424.72,757.71 424.85,757.47 424.97,758.61 425.09,758.68 425.22,759.00 425.34,759.71 425.47,760.16 425.59,760.32 425.71,762.06 425.84,761.61 425.96,762.00 426.09,763.04 426.23,763.19 426.57,764.04 426.92,763.84 427.27,764.42 427.62,764.69 427.97,765.07 428.31,765.30 428.66,765.70 429.01,766.67 429.38,766.17 429.87,766.31 430.36,766.48 430.86,766.90 431.35,766.94 431.84,767.22 432.33,766.53 432.82,767.18 433.31,767.13 433.80,767.19" fill="none" stroke="#000" stroke-width="2.6" stroke-linejoin="round" stroke-linecap="round" />
<polyline points="433.00,767.52 433.30,766.51 433.60,767.48 433.90,766.47 434.20,767.49 434.50,766.59 434.80,767.59 435.10,766.48 435.40,767.87 435.70,766.54 436.00,768.07 436.30,765.81 436.60,767.86 436.90,766.06 437.20,767.93 437.50,766.25 437.80,767.66 438.10,765.96 438.40,768.01 438.70,765.91 439.00,767.81 439.30,766.37 439.60,767.64 439.90,765.94 440.20,768.16 440.50,765.58 440.80,768.25 441.10,765.36 441.40,767.99 441.70,766.16 442.00,768.25 442.30,765.56 442.60,767.47 442.90,766.49 443.20,768.02 443.50,766.63 443.80,767.73 444.10,766.50 444.40,768.27 444.70,766.56 445.00,768.79 445.30,766.36 445.60,768.77 445.90,765.90 446.20,768.40 446.50,765.86 446.80,769.10 447.10,765.55 447.40,768.94 447.70,766.29 448.00,767.95 448.30,765.44 448.60,768.15 448.90,766.28 449.20,768.09 449.50,766.30 449.80,768.27 450.10,765.81 450.40,767.52 450.70,766.13 451.00,767.76 451.30,766.08 451.60,767.89 451.90,766.27 452.20,767.70 452.50,766.49 452.80,767.90 453.10,766.08 453.40,768.50 453.70,765.79 454.00,768.39 454.30,766.00 454.60,767.74 454.90,765.89 455.20,767.97 455.50,766.57 455.80,768.02 456.10,766.19 456.40,767.59 456.70,766.72 457.00,767.66 457.30,766.37 457.60,768.22 457.90,766.62 458.20,768.13 458.50,766.53 458.80,767.67 459.10,766.69 459.40,767.88 459.70,766.84 460.00,767.89 460.30,766.85 460.60,768.34 460.90,767.11 461.20,768.20 461.50,766.95 461.80,768.15 462.10,767.31 462.40,768.49 462.70,766.86 463.00,768.81 463.30,767.08 463.60,768.44 463.90,766.57 464.20,768.73 464.50,766.97 464.80,768.56 465.10,766.31 465.40,767.93 465.70,766.75 466.00,768.30 466.30,766.57 466.60,768.08 466.90,766.55 467.20,767.98 467.50,766.84 467.80,767.92 468.10,766.66 468.40,767.70 468.70,766.60 469.00,768.36 469.30,766.62 469.60,767.94 469.90,766.12 470.20,768.15 470.50,766.13 470.80,768.78 471.10,766.53 471.40,767.98 471.70,765.98 472.00,765.01 472.30,766.69 472.60,767.92 472.90,766.63 473.20,767.95 473.50,767.05 473.80,768.13 474.10,766.75 474.40,767.72 474.70,766.67 475.00,767.95 475.30,766.60 475.60,768.24 475.90,766.69 476.20,767.90 476.50,766.27 476.80,767.69 477.10,766.08 477.40,768.15 477.70,766.46 478.00,768.28 478.30,765.76 478.60,767.71 478.90,765.81 479.20,767.92 479.50,766.13 479.80,767.91 480.10,766.66 480.40,767.93 480.70,766.58 481.00,768.56 481.30,765.82 481.60,767.87 481.90,766.24 482.20,768.63 482.50,765.71 482.80,768.93 483.10,765.95 483.40,768.27 483.70,766.60 484.00,768.07 484.30,766.53 484.60,768.74 484.90,766.61 485.20,768.28 485.50,766.57 485.80,768.31 486.10,766.56 486.40,768.71 486.70,767.31 487.00,768.69 487.30,766.54 487.60,769.05 487.90,767.30 488.20,769.00 488.50,766.61 488.80,768.92 489.10,766.85 489.40,768.15 489.70,766.34 490.00,768.48 490.30,766.71 490.60,767.80 490.90,766.81 491.20,767.85 491.50,766.71 491.80,767.79 492.10,766.30 492.40,767.55 492.70,766.17 493.00,767.80 493.30,766.53 493.60,767.93 493.90,766.43 494.20,767.75 494.50,766.39 494.80,769.68 495.10,766.11 495.40,768.21 495.70,765.95 496.00,767.89 496.30,766.45 496.60,768.19 496.90,765.76 497.20,768.01 497.50,766.26 497.80,768.05 498.10,766.77 498.40,769.04 498.70,765.90 499.00,768.18 499.30,766.34 499.60,768.73 499.90,766.04 500.20,768.92 500.50,765.94 500.80,768.88 501.10,766.30 501.40,768.56 501.70,766.21 502.00,768.23 502.30,765.62 502.60,768.17 502.90,766.48 503.20,768.66 503.50,766.54 503.80,767.93 504.10,764.04 504.40,768.37 504.70,766.48 505.00,768.36 505.30,766.37 505.60,767.84 505.90,765.73 506.20,768.21 506.50,765.51 506.80,767.83 507.10,765.51 507.40,768.37" fill="none" stroke="#000" stroke-width="1.3" stroke-linejoin="round" stroke-linecap="round" />
<text transform="translate(58.70,453.02) scale(1.0822,1)" font-size="19.20" fill="#000" stroke="#000" stroke-width="0.3" >(b)</text>
<text transform="translate(272.96,577.72) rotate(-90) scale(1.1302,1)" font-size="18.02" fill="#000" stroke="#000" stroke-width="0.3" >Sapphire (0006)</text>
<text transform="translate(93.65,712.24) rotate(-90) scale(1.0685,1)" font-size="18.55" fill="#000" stroke="#000" stroke-width="0.3" >(-201)</text>
<text transform="translate(239.88,701.47) rotate(-90) scale(1.0795,1)" font-size="18.87" fill="#000" stroke="#000" stroke-width="0.3" >(-402)</text>
<text transform="translate(420.60,697.58) rotate(-90) scale(1.2513,1)" font-size="16.41" fill="#000" stroke="#000" stroke-width="0.3" >(-603)</text>
<text transform="translate(239.97,823.50) scale(0.9947,1)" font-size="18.78" fill="#000" stroke="#000" stroke-width="0.3" >2</text>
<text transform="translate(252.03,823.31) scale(1.1033,1)" font-size="18.59" fill="#000" stroke="#000" stroke-width="0.3"  font-family="Liberation Serif, serif">θ</text>
<text transform="translate(266.92,823.81) scale(1.1185,1)" font-size="19.73" fill="#000" stroke="#000" stroke-width="0.3" >(deg.)</text>
<text transform="translate(17.80,710.12) rotate(-90) scale(1.0150,1)" font-size="21.50" stroke="#000" stroke-width="0.3">Intensity (arb. units)</text>
</svg></body></html>
